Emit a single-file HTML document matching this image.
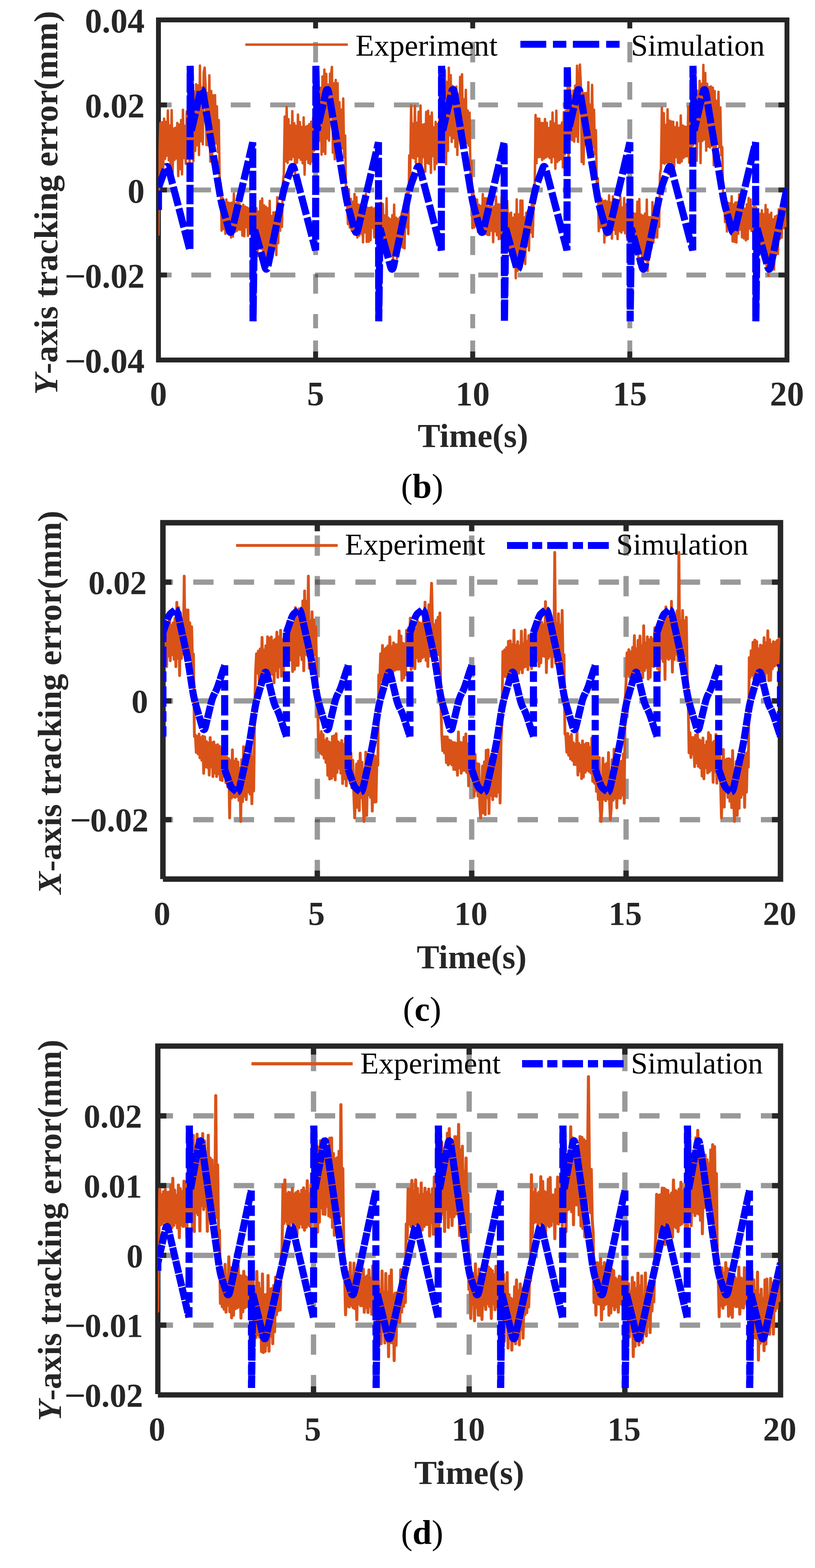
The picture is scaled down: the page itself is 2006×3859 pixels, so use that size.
<!DOCTYPE html>
<html lang="en"><head><meta charset="utf-8"><title>Tracking error: experiment vs simulation</title>
<style>
html,body{margin:0;padding:0;background:#fff;}
body{width:2006px;height:3859px;}
svg{display:block;}
.tk{font-family:"Liberation Serif", "DejaVu Serif", serif;font-weight:bold;font-size:84px;fill:#262626;}
.lg{font-family:"Liberation Serif", "DejaVu Serif", serif;font-size:75px;fill:#000;}
.cap{font-family:"Liberation Serif", "DejaVu Serif", serif;font-size:85px;fill:#000;}
</style></head><body>
<svg width="2006" height="3859" viewBox="0 0 2006 3859">
<rect width="2006" height="3859" fill="#fff"/>
<g id="plot1">
<text class="lg" x="875" y="136.5" style="font-size:75px">Experiment</text>
<text class="lg" x="1553" y="136.5" style="font-size:75px">Simulation</text>
<g fill="#262626" fill-opacity="0.47">
<rect x="390" y="252.2" width="32.4" height="12"/>
<rect x="471" y="252.2" width="48.5" height="12"/>
<rect x="568" y="252.2" width="48.5" height="12"/>
<rect x="665" y="252.2" width="62" height="12"/>
<rect x="775.6" y="252.2" width="48.5" height="12"/>
<rect x="872.6" y="252.2" width="48.5" height="12"/>
<rect x="969.6" y="252.2" width="62" height="12"/>
<rect x="1080.2" y="252.2" width="48.5" height="12"/>
<rect x="1177.2" y="252.2" width="48.5" height="12"/>
<rect x="1274.2" y="252.2" width="62" height="12"/>
<rect x="1384.8" y="252.2" width="48.5" height="12"/>
<rect x="1481.8" y="252.2" width="48.5" height="12"/>
<rect x="1578.8" y="252.2" width="62" height="12"/>
<rect x="1689.4" y="252.2" width="48.5" height="12"/>
<rect x="1786.4" y="252.2" width="48.5" height="12"/>
<rect x="1883.4" y="252.2" width="53.6" height="12"/>
<rect x="390" y="461.5" width="32.4" height="12"/>
<rect x="471" y="461.5" width="48.5" height="12"/>
<rect x="568" y="461.5" width="48.5" height="12"/>
<rect x="665" y="461.5" width="62" height="12"/>
<rect x="775.6" y="461.5" width="48.5" height="12"/>
<rect x="872.6" y="461.5" width="48.5" height="12"/>
<rect x="969.6" y="461.5" width="62" height="12"/>
<rect x="1080.2" y="461.5" width="48.5" height="12"/>
<rect x="1177.2" y="461.5" width="48.5" height="12"/>
<rect x="1274.2" y="461.5" width="62" height="12"/>
<rect x="1384.8" y="461.5" width="48.5" height="12"/>
<rect x="1481.8" y="461.5" width="48.5" height="12"/>
<rect x="1578.8" y="461.5" width="62" height="12"/>
<rect x="1689.4" y="461.5" width="48.5" height="12"/>
<rect x="1786.4" y="461.5" width="48.5" height="12"/>
<rect x="1883.4" y="461.5" width="53.6" height="12"/>
<rect x="390" y="670.8" width="32.4" height="12"/>
<rect x="471" y="670.8" width="48.5" height="12"/>
<rect x="568" y="670.8" width="48.5" height="12"/>
<rect x="665" y="670.8" width="62" height="12"/>
<rect x="775.6" y="670.8" width="48.5" height="12"/>
<rect x="872.6" y="670.8" width="48.5" height="12"/>
<rect x="969.6" y="670.8" width="62" height="12"/>
<rect x="1080.2" y="670.8" width="48.5" height="12"/>
<rect x="1177.2" y="670.8" width="48.5" height="12"/>
<rect x="1274.2" y="670.8" width="62" height="12"/>
<rect x="1384.8" y="670.8" width="48.5" height="12"/>
<rect x="1481.8" y="670.8" width="48.5" height="12"/>
<rect x="1578.8" y="670.8" width="62" height="12"/>
<rect x="1689.4" y="670.8" width="48.5" height="12"/>
<rect x="1786.4" y="670.8" width="48.5" height="12"/>
<rect x="1883.4" y="670.8" width="53.6" height="12"/>
<rect x="770.8" y="49" width="12" height="9"/>
<rect x="770.8" y="103.4" width="12" height="50.1"/>
<rect x="770.8" y="202" width="12" height="43.3"/>
<rect x="770.8" y="293.8" width="12" height="48.4"/>
<rect x="770.8" y="392.3" width="12" height="43.4"/>
<rect x="770.8" y="488" width="12" height="45"/>
<rect x="770.8" y="581" width="12" height="46.7"/>
<rect x="770.8" y="674.4" width="12" height="48.4"/>
<rect x="770.8" y="773" width="12" height="35"/>
<rect x="770.8" y="838" width="12" height="48"/>
<rect x="1157.5" y="49" width="12" height="9"/>
<rect x="1157.5" y="103.4" width="12" height="50.1"/>
<rect x="1157.5" y="202" width="12" height="43.3"/>
<rect x="1157.5" y="293.8" width="12" height="48.4"/>
<rect x="1157.5" y="392.3" width="12" height="43.4"/>
<rect x="1157.5" y="488" width="12" height="45"/>
<rect x="1157.5" y="581" width="12" height="46.7"/>
<rect x="1157.5" y="674.4" width="12" height="48.4"/>
<rect x="1157.5" y="773" width="12" height="35"/>
<rect x="1157.5" y="838" width="12" height="48"/>
<rect x="1544.2" y="49" width="12" height="9"/>
<rect x="1544.2" y="103.4" width="12" height="50.1"/>
<rect x="1544.2" y="202" width="12" height="43.3"/>
<rect x="1544.2" y="293.8" width="12" height="48.4"/>
<rect x="1544.2" y="392.3" width="12" height="43.4"/>
<rect x="1544.2" y="488" width="12" height="45"/>
<rect x="1544.2" y="581" width="12" height="46.7"/>
<rect x="1544.2" y="674.4" width="12" height="48.4"/>
<rect x="1544.2" y="773" width="12" height="35"/>
<rect x="1544.2" y="838" width="12" height="48"/>
</g>
<rect x="390" y="49" width="1547" height="837" fill="none" stroke="#262626" stroke-width="12"/>
<path d="M390 258.2h21M1937 258.2h-21M390 467.5h21M1937 467.5h-21M390 676.8h21M1937 676.8h-21M776.8 49v21M776.8 886v-21M1163.5 49v21M1163.5 886v-21M1550.2 49v21M1550.2 886v-21" stroke="#262626" stroke-width="12" fill="none"/>
<clipPath id="clip1"><rect x="390" y="49" width="1547" height="837"/></clipPath>
<g clip-path="url(#clip1)">
<path d="M390 577.4L392.3 401.3L394.6 302.9L397 435.6L399.3 301.1L401.6 427.6L403.9 291.9L406.2 390.8L408.6 299.9L410.9 383.3L413.2 272L415.5 394.6L417.8 308.4L420.2 431.8L422.5 271L424.8 432.9L427.1 316.2L429.4 393.3L431.8 314.6L434.1 390.1L436.4 302.5L438.7 433.3L441.1 306.6L443.4 416.3L445.7 295.5L448 428.9L450.3 270.3L452.7 388.9L455 309.6L457.3 403.2L459.6 274.4L461.9 373.9L464.3 269.7L466.6 407.8L468.9 201.6L471.2 376L473.5 249.1L475.9 396.8L478.2 225.5L480.5 371.2L482.8 207.5L485.1 357.6L487.5 210.2L489.8 381.5L492.1 161.6L494.4 347.6L496.7 215.2L499.1 355.3L501.4 178L503.7 166.2L506 212.6L508.3 356.9L510.7 228.5L513 357.6L515.3 185.6L517.6 397.5L519.9 224.1L522.3 389.4L524.6 234.4L526.9 360L529.2 234.3L531.6 353.1L533.9 261.7L536.2 374.3L538.5 295.5L540.8 456.2L543.2 450.3L545.5 567.5L547.8 486.8L550.1 563.6L552.4 499.4L554.8 575.3L557.1 490.9L559.4 566.3L561.7 498.6L564 565.1L566.4 500.1L568.7 584.3L571 498.8L573.3 582.1L575.6 476.2L578 570.3L580.3 500.8L582.6 568.4L584.9 480.5L587.2 564.8L589.6 501L591.9 565.1L594.2 508.1L596.5 579.7L598.8 503.9L601.2 581.3L603.5 508.5L605.8 559L608.1 510.6L610.4 580.3L612.8 512.9L615.1 565.6L617.4 498.1L619.7 571.9L622 481.1L624.4 604.3L626.7 508.3L629 618.6L631.3 512.5L633.7 629.9L636 520.9L638.3 601.4L640.6 494.9L642.9 612.2L645.3 488.6L647.6 618.3L649.9 505.4L652.2 666L654.5 509.1L656.9 665.2L659.2 512.4L661.5 633.4L663.8 494.3L666.1 631.8L668.5 531.7L670.8 632.2L673.1 522.7L675.4 608.5L677.7 522.2L680.1 627.6L682.4 485.4L684.7 598.5L687 512.3L689.3 567.9L691.7 505.3L694 558.1L696.3 449.7L698.6 428.9L700.9 287.1L703.3 397.1L705.6 263.2L707.9 401L710.2 293.5L712.5 392.4L714.9 308.7L717.2 392.7L719.5 273.4L721.8 385.7L724.2 303.5L726.5 428.1L728.8 309.8L731.1 399.9L733.4 282L735.8 388L738.1 300.4L740.4 393.1L742.7 312.4L745 401.7L747.4 289.1L749.7 429.7L752 312.2L754.3 391.9L756.6 310.1L759 400.9L761.3 305.6L763.6 403.4L765.9 299.5L768.2 397.2L770.6 291.2L772.9 370.9L775.2 225.1L777.5 367.6L779.8 252.6L782.2 366.5L784.5 225.5L786.8 346.3L789.1 215.9L791.4 380.4L793.8 188.2L796.1 373.3L798.4 171.2L800.7 379L803 181.7L805.4 340.9L807.7 208.5L810 346L812.3 181.4L814.7 185L817 164.7L819.3 375.6L821.6 204.9L823.9 392L826.3 196.7L828.6 356.6L830.9 205.1L833.2 361.4L835.5 251.4L837.9 368.7L840.2 269.8L842.5 365.2L844.8 242.4L847.1 387.5L849.5 333.6L851.8 491.7L854.1 488.3L856.4 551.5L858.7 465.7L861.1 560.1L863.4 489.6L865.7 567.5L868 496.5L870.3 565.9L872.7 477.4L875 570.6L877.3 485.4L879.6 584.5L881.9 503.7L884.3 579.8L886.6 504.3L888.9 575.6L891.2 512.5L893.5 596.4L895.9 492.4L898.2 572L900.5 477.1L902.8 595.2L905.2 511.4L907.5 595L909.8 511.8L912.1 591.2L914.4 510.2L916.8 560.3L919.1 513.5L921.4 584.2L923.7 511.9L926 566L928.4 509.9L930.7 576.9L933 500.7L935.3 584.5L937.6 498.9L940 596L942.3 502.1L944.6 591.7L946.9 530.2L949.2 608L951.6 488.1L953.9 623.1L956.2 535.9L958.5 625.9L960.8 539.5L963.2 629.8L965.5 529.6L967.8 640.5L970.1 503.8L972.4 623.7L974.8 535.7L977.1 636.2L979.4 539.1L981.7 617.8L984 535.1L986.4 598.6L988.7 524.5L991 609L993.3 513.6L995.7 611.3L998 509.6L1000.3 559.2L1002.6 473.9L1004.9 575.9L1007.3 382.4L1009.6 434.4L1011.9 259.3L1014.2 387.9L1016.5 304.4L1018.9 389.6L1021.2 260.5L1023.5 400.6L1025.8 302L1028.1 384.2L1030.5 275.1L1032.8 424.4L1035.1 259.7L1037.4 416.3L1039.7 306.9L1042.1 386.4L1044.4 305.6L1046.7 422.4L1049 275.5L1051.3 401.1L1053.7 272.5L1056 403L1058.3 285.9L1060.6 425.4L1062.9 277L1065.3 384.2L1067.6 313.2L1069.9 417L1072.2 299.9L1074.5 402.7L1076.9 304.9L1079.2 395L1081.5 291.8L1083.8 360.3L1086.2 258.7L1088.5 396.7L1090.8 239.4L1093.1 352.4L1095.4 173L1097.8 403.8L1100.1 201.8L1102.4 371.4L1104.7 166.8L1107 333.2L1109.4 185L1111.7 349.1L1114 211.5L1116.3 339.9L1118.6 219.5L1121 361.4L1123.3 213.2L1125.6 381.3L1127.9 231.9L1130.2 335.2L1132.6 189.3L1134.9 340.3L1137.2 182.8L1139.5 341.4L1141.8 244.5L1144.2 347.8L1146.5 221.3L1148.8 352.4L1151.1 272L1153.4 358.1L1155.8 277.2L1158.1 439.1L1160.4 397L1162.7 561.3L1165 470.1L1167.4 559.7L1169.7 489.5L1172 554.7L1174.3 491.4L1176.6 571L1179 504.2L1181.3 573.2L1183.6 507.1L1185.9 572.2L1188.3 477.7L1190.6 576.6L1192.9 487.9L1195.2 575.5L1197.5 487.9L1199.9 577.8L1202.2 508.8L1204.5 578.3L1206.8 505.5L1209.1 567.6L1211.5 510.9L1213.8 595.9L1216.1 508.3L1218.4 569.3L1220.7 483.8L1223.1 578.8L1225.4 502.8L1227.7 588.4L1230 503.4L1232.3 587.2L1234.7 484.4L1237 569.4L1239.3 484.8L1241.6 572.2L1243.9 497.8L1246.3 604.5L1248.6 494.5L1250.9 596.6L1253.2 525.8L1255.5 628.4L1257.9 523.4L1260.2 638.3L1262.5 536L1264.8 634.6L1267.1 527.6L1269.5 684.7L1271.8 490.8L1274.1 666.4L1276.4 527.8L1278.8 647.3L1281.1 493.6L1283.4 633.1L1285.7 493.8L1288 631.8L1290.4 534.9L1292.7 649.6L1295 523.8L1297.3 604.9L1299.6 519.2L1302 616.4L1304.3 512.5L1306.6 572L1308.9 500.1L1311.2 583L1313.6 501.5L1315.9 484.4L1318.2 282.9L1320.5 401.5L1322.8 291.7L1325.2 386.8L1327.5 292.3L1329.8 386.1L1332.1 302.8L1334.4 393.6L1336.8 303L1339.1 390.1L1341.4 293L1343.7 386.9L1346 302.6L1348.4 384.9L1350.7 315.2L1353 389L1355.3 299.1L1357.6 399.7L1360 277.1L1362.3 385.9L1364.6 303.8L1366.9 415L1369.3 272.4L1371.6 398.5L1373.9 308.9L1376.2 394.2L1378.5 308.7L1380.9 391.3L1383.2 301.8L1385.5 412L1387.8 276.1L1390.1 380.6L1392.5 273.1L1394.8 368L1397.1 209.2L1399.4 405.7L1401.7 209.7L1404.1 342.9L1406.4 235.7L1408.7 344.9L1411 223.1L1413.3 348.4L1415.7 210.8L1418 335.7L1420.3 161.7L1422.6 349L1424.9 217.9L1427.3 158.9L1429.6 206.1L1431.9 398.8L1434.2 228.1L1436.5 403.9L1438.9 229.5L1441.2 356.3L1443.5 229.1L1445.8 348.3L1448.1 202.2L1450.5 368L1452.8 257.5L1455.1 352.1L1457.4 208.9L1459.8 362.5L1462.1 270.1L1464.4 379.8L1466.7 320.4L1469 464.1L1471.4 438.4L1473.7 568.9L1476 488.1L1478.3 560L1480.6 489.5L1483 558.6L1485.3 495.1L1487.6 596.8L1489.9 493.8L1492.2 579.6L1494.6 496.3L1496.9 570.4L1499.2 480.9L1501.5 575.1L1503.8 498.3L1506.2 587.2L1508.5 483.6L1510.8 565.4L1513.1 490.4L1515.4 575.7L1517.8 513L1520.1 588.3L1522.4 509L1524.7 569L1527 484.4L1529.4 572.5L1531.7 511L1534 566.5L1536.3 487.5L1538.6 574L1541 503L1543.3 583.5L1545.6 491.1L1547.9 571.3L1550.2 497.3L1552.6 569.4L1554.9 519.2L1557.2 590.8L1559.5 524.9L1561.9 593.7L1564.2 526.2L1566.5 612.1L1568.8 496.6L1571.1 648.5L1573.5 490.1L1575.8 624L1578.1 528.2L1580.4 633.9L1582.7 531L1585.1 638.7L1587.4 525.8L1589.7 640.7L1592 491.3L1594.3 667L1596.7 534.3L1599 632.9L1601.3 535L1603.6 609.7L1605.9 497.4L1608.3 596.5L1610.6 513.3L1612.9 584.2L1615.2 488.8L1617.5 584.3L1619.9 505.1L1622.2 558.5L1624.5 428.1L1626.8 415.6L1629.1 265.1L1631.5 401.3L1633.8 278.6L1636.1 402.7L1638.4 307.6L1640.7 399.5L1643.1 268.9L1645.4 428.1L1647.7 297.1L1650 397.1L1652.4 299L1654.7 428.4L1657 299.7L1659.3 411.5L1661.6 313.1L1664 386.9L1666.3 301.5L1668.6 400.2L1670.9 314.8L1673.2 401.2L1675.6 284.3L1677.9 397.2L1680.2 308.8L1682.5 388.3L1684.8 311.3L1687.2 384.9L1689.5 312.2L1691.8 384.4L1694.1 262.4L1696.4 400.2L1698.8 291.3L1701.1 366.8L1703.4 262.3L1705.7 357.9L1708 196.4L1710.4 345.8L1712.7 234.4L1715 395.5L1717.3 223.6L1719.6 347.2L1722 198.9L1724.3 401.3L1726.6 206.6L1728.9 346.6L1731.2 159.8L1733.6 343.1L1735.9 179.8L1738.2 370.6L1740.5 206.2L1742.9 360.5L1745.2 214.5L1747.5 362.8L1749.8 212.8L1752.1 359.1L1754.5 215.7L1756.8 406.6L1759.1 224.2L1761.4 400.7L1763.7 247.9L1766.1 354.1L1768.4 226L1770.7 362.6L1773 264.2L1775.3 381.9L1777.7 361.8L1780 494.4L1782.3 476.1L1784.6 546.4L1786.9 488.2L1789.3 569.7L1791.6 499.3L1793.9 558.7L1796.2 500.5L1798.5 562.6L1800.9 483.1L1803.2 593.9L1805.5 503L1807.8 595.1L1810.1 498.4L1812.5 596.6L1814.8 497.8L1817.1 575.3L1819.4 478.5L1821.7 565.3L1824.1 511.7L1826.4 583.8L1828.7 500.7L1831 586.7L1833.4 513.5L1835.7 591.4L1838 503.1L1840.3 588.4L1842.6 487.2L1845 562.3L1847.3 491.1L1849.6 568.1L1851.9 511.5L1854.2 575.6L1856.6 483.4L1858.9 569.7L1861.2 510.2L1863.5 584.7L1865.8 519.8L1868.2 590.1L1870.5 526.2L1872.8 600.7L1875.1 517.4L1877.4 635.7L1879.8 527.3L1882.1 616.7L1884.4 504.6L1886.7 653.9L1889 515.5L1891.4 678.9L1893.7 528.3L1896 646.1L1898.3 523.6L1900.6 631.4L1903 539.7L1905.3 663.3L1907.6 533L1909.9 626.8L1912.2 530.8L1914.6 625L1916.9 515.2L1919.2 587.9L1921.5 510.7L1923.9 584.8L1926.2 500.2L1928.5 561.3L1930.8 487.2L1933.1 556.1" fill="none" stroke="#D95319" stroke-width="6" stroke-linejoin="round" stroke-linecap="round"/>
<path d="M390 516.7L390 464.5L390.8 461.6L391.5 458.9L392.3 456.3L393.1 453.9L393.9 451.6L394.6 449.5L395.4 447.4L396.2 445.2L397 443.1L397.7 441L398.5 438.8L399.3 436.7L400.1 434.6L400.8 432.5L401.6 430.3L402.4 428.2L403.1 426.1L403.9 423.9L404.7 421.8L405.5 419.7L406.2 417.5L407 415.4L407.8 413.3L408.6 411.6L409.3 410.4L410.1 409.7L410.9 409.4L411.7 409.6L412.4 410.2L413.2 411.3L414 412.9L414.8 415L415.5 417.5L416.3 420.4L417.1 423.4L417.8 426.3L418.6 429.3L419.4 432.3L420.2 435.2L420.9 438.2L421.7 441.2L422.5 444.1L423.3 447.1L424 450.1L424.8 453L425.6 456L426.4 459L427.1 461.9L427.9 464.9L428.7 467.8L429.4 470.8L430.2 473.8L431 476.7L431.8 479.7L432.5 482.7L433.3 485.6L434.1 488.6L434.9 491.6L435.6 494.5L436.4 497.5L437.2 500.5L438 503.4L438.7 506.4L439.5 509.4L440.3 512.3L441.1 515.3L441.8 518.2L442.6 521.2L443.4 524.2L444.1 527.1L444.9 530.1L445.7 533.1L446.5 536L447.2 539L448 542L448.8 544.9L449.6 547.9L450.3 550.9L451.1 553.8L451.9 556.8L452.7 559.7L453.4 562.7L454.2 565.7L455 568.6L455.7 571.6L456.5 574.6L457.3 577.5L458.1 580.5L458.8 583.5L459.6 586.4L460.4 589.4L461.2 592.4L461.9 595.3L462.7 598.3L463.5 601.2L464.3 604.2L465 607.2L465.8 610.1L466.6 613.1L467.4 616.1L468.1 162L468.9 201.8L469.7 241.5L470.4 281.3L471.2 321L471.2 321L472 317.6L472.8 314.2L473.5 310.8L474.3 307.5L475.1 304.1L475.9 300.7L476.6 297.3L477.4 293.9L478.2 290.5L479 287.1L479.7 283.7L480.5 280.3L481.3 276.9L482 273.5L482.8 270.1L483.6 266.7L484.4 263.4L485.1 260L485.9 256.6L486.7 253.2L487.5 249.8L488.2 246.4L489 243L489.8 239.6L490.6 236.2L491.3 232.8L492.1 229.4L492.9 226L493.6 223.4L494.4 221.5L495.2 220.3L496 219.8L496.7 220.1L497.5 221.1L498.3 222.8L499.1 225.3L499.8 228.5L500.6 232.4L501.4 237.1L502.2 241.8L502.9 246.5L503.7 251.1L504.5 255.8L505.3 260.5L506 265.2L506.8 269.8L507.6 274.5L508.3 279.2L509.1 283.9L509.9 288.5L510.7 293.2L511.4 297.9L512.2 302.6L513 307.2L513.8 311.9L514.5 316.6L515.3 321.3L516.1 325.9L516.9 330.6L517.6 335.3L518.4 340L519.2 344.6L519.9 349.3L520.7 354L521.5 358.7L522.3 363.3L523 368L523.8 372.7L524.6 377.4L525.4 382L526.1 386.7L526.9 391.4L527.7 396.1L528.5 400.7L529.2 405.4L530 410.1L530.8 414.7L531.6 419.4L532.3 424.1L533.1 428.8L533.9 433.4L534.6 438.1L535.4 442.8L536.2 447.5L537 452.1L537.7 456.8L538.5 461.5L539.3 466.2L540.1 470.8L540.8 475.5L541.6 480L542.4 484.3L543.2 488.5L543.9 492.4L544.7 496.2L545.5 499.8L546.2 503.3L547 506.5L547.8 509.6L548.6 512.5L549.3 515.2L550.1 517.9L550.9 520.6L551.7 523.4L552.4 526.1L553.2 528.8L554 531.5L554.8 534.3L555.5 537L556.3 539.7L557.1 542.4L557.8 545.1L558.6 547.9L559.4 550.6L560.2 553.3L560.9 556L561.7 558.7L562.5 561.5L563.3 564.2L564 566.9L564.8 569.1L565.6 570.7L566.4 571.8L567.1 572.3L567.9 572.3L568.7 571.7L569.5 570.6L570.2 569L571 566.8L571.8 564.1L572.5 560.8L573.3 557.5L574.1 554.2L574.9 550.9L575.6 547.6L576.4 544.3L577.2 541L578 537.7L578.7 534.5L579.5 531.2L580.3 527.9L581.1 524.6L581.8 521.3L582.6 518L583.4 514.7L584.1 511.4L584.9 508.2L585.7 504.9L586.5 501.6L587.2 498.3L588 495L588.8 491.7L589.6 488.4L590.3 485.1L591.1 481.8L591.9 478.6L592.7 475.3L593.4 472L594.2 468.7L595 465.4L595.8 462.1L596.5 458.8L597.3 455.5L598.1 452.3L598.8 449L599.6 445.7L600.4 442.4L601.2 439.1L601.9 435.8L602.7 432.5L603.5 429.2L604.3 425.9L605 422.7L605.8 419.4L606.6 416.1L607.4 412.8L608.1 409.5L608.9 406.2L609.7 402.9L610.4 399.6L611.2 396.4L612 393.1L612.8 389.8L613.5 386.5L614.3 383.2L615.1 379.9L615.9 376.6L616.6 373.3L617.4 370L618.2 366.8L619 363.5L619.7 360.2L620.5 356.9L621.3 353.6L622 350.3L622.8 790.8L623.6 733.5L624.4 676.2L625.1 618.9L625.9 561.7L625.9 561.7L626.7 564.5L627.5 567.3L628.2 570.1L629 572.9L629.8 575.7L630.6 578.6L631.3 581.4L632.1 584.2L632.9 587L633.7 589.8L634.4 592.6L635.2 595.5L636 598.3L636.7 601.1L637.5 603.9L638.3 606.7L639.1 609.5L639.8 612.4L640.6 615.2L641.4 618L642.2 620.8L642.9 623.6L643.7 626.4L644.5 629.3L645.3 632.1L646 634.9L646.8 637.7L647.6 640.5L648.3 643.4L649.1 646.2L649.9 649L650.7 651.8L651.4 654.6L652.2 657.4L653 659.7L653.8 661.3L654.5 662.3L655.3 662.7L656.1 662.6L656.9 661.8L657.6 660.5L658.4 658.5L659.2 656L660 652.8L660.7 649.1L661.5 645.4L662.3 641.6L663 637.9L663.8 634.2L664.6 630.4L665.4 626.7L666.1 622.9L666.9 619.2L667.7 615.5L668.5 611.7L669.2 608L670 604.3L670.8 600.5L671.6 596.8L672.3 593L673.1 589.3L673.9 585.6L674.6 581.8L675.4 578.1L676.2 574.4L677 570.6L677.7 566.9L678.5 563.2L679.3 559.4L680.1 555.7L680.8 551.9L681.6 548.2L682.4 544.5L683.2 540.7L683.9 537L684.7 533.3L685.5 529.5L686.3 525.8L687 522.1L687.8 518.3L688.6 514.6L689.3 510.8L690.1 507.1L690.9 503.4L691.7 499.6L692.4 495.9L693.2 492.2L694 488.4L694.8 484.7L695.5 481L696.3 477.4L697.1 473.9L697.9 470.6L698.6 467.5L699.4 464.5L700.2 461.6L700.9 458.9L701.7 456.3L702.5 453.9L703.3 451.6L704 449.5L704.8 447.4L705.6 445.2L706.4 443.1L707.1 441L707.9 438.8L708.7 436.7L709.5 434.6L710.2 432.5L711 430.3L711.8 428.2L712.5 426.1L713.3 423.9L714.1 421.8L714.9 419.7L715.6 417.5L716.4 415.4L717.2 413.3L718 411.6L718.7 410.4L719.5 409.7L720.3 409.4L721.1 409.6L721.8 410.2L722.6 411.3L723.4 412.9L724.2 415L724.9 417.5L725.7 420.4L726.5 423.4L727.2 426.3L728 429.3L728.8 432.3L729.6 435.2L730.3 438.2L731.1 441.2L731.9 444.1L732.7 447.1L733.4 450.1L734.2 453L735 456L735.8 459L736.5 461.9L737.3 464.9L738.1 467.8L738.8 470.8L739.6 473.8L740.4 476.7L741.2 479.7L741.9 482.7L742.7 485.6L743.5 488.6L744.3 491.6L745 494.5L745.8 497.5L746.6 500.5L747.4 503.4L748.1 506.4L748.9 509.4L749.7 512.3L750.5 515.3L751.2 518.2L752 521.2L752.8 524.2L753.5 527.1L754.3 530.1L755.1 533.1L755.9 536L756.6 539L757.4 542L758.2 544.9L759 547.9L759.7 550.9L760.5 553.8L761.3 556.8L762.1 559.7L762.8 562.7L763.6 565.7L764.4 568.6L765.1 571.6L765.9 574.6L766.7 577.5L767.5 580.5L768.2 583.5L769 586.4L769.8 589.4L770.6 592.4L771.3 595.3L772.1 598.3L772.9 601.2L773.7 604.2L774.4 607.2L775.2 610.1L776 613.1L776.8 616.1L777.5 162L778.3 201.8L779.1 241.5L779.8 281.3L780.6 321L780.6 321L781.4 317.6L782.2 314.2L782.9 310.8L783.7 307.5L784.5 304.1L785.3 300.7L786 297.3L786.8 293.9L787.6 290.5L788.4 287.1L789.1 283.7L789.9 280.3L790.7 276.9L791.4 273.5L792.2 270.1L793 266.7L793.8 263.4L794.5 260L795.3 256.6L796.1 253.2L796.9 249.8L797.6 246.4L798.4 243L799.2 239.6L800 236.2L800.7 232.8L801.5 229.4L802.3 226L803 223.4L803.8 221.5L804.6 220.3L805.4 219.8L806.1 220.1L806.9 221.1L807.7 222.8L808.5 225.3L809.2 228.5L810 232.4L810.8 237.1L811.6 241.8L812.3 246.5L813.1 251.1L813.9 255.8L814.7 260.5L815.4 265.2L816.2 269.8L817 274.5L817.7 279.2L818.5 283.9L819.3 288.5L820.1 293.2L820.8 297.9L821.6 302.6L822.4 307.2L823.2 311.9L823.9 316.6L824.7 321.3L825.5 325.9L826.3 330.6L827 335.3L827.8 340L828.6 344.6L829.3 349.3L830.1 354L830.9 358.7L831.7 363.3L832.4 368L833.2 372.7L834 377.4L834.8 382L835.5 386.7L836.3 391.4L837.1 396.1L837.9 400.7L838.6 405.4L839.4 410.1L840.2 414.7L841 419.4L841.7 424.1L842.5 428.8L843.3 433.4L844 438.1L844.8 442.8L845.6 447.5L846.4 452.1L847.1 456.8L847.9 461.5L848.7 466.2L849.5 470.8L850.2 475.5L851 480L851.8 484.3L852.6 488.5L853.3 492.4L854.1 496.2L854.9 499.8L855.6 503.3L856.4 506.5L857.2 509.6L858 512.5L858.7 515.2L859.5 517.9L860.3 520.6L861.1 523.4L861.8 526.1L862.6 528.8L863.4 531.5L864.2 534.3L864.9 537L865.7 539.7L866.5 542.4L867.2 545.1L868 547.9L868.8 550.6L869.6 553.3L870.3 556L871.1 558.7L871.9 561.5L872.7 564.2L873.4 566.9L874.2 569.1L875 570.7L875.8 571.8L876.5 572.3L877.3 572.3L878.1 571.7L878.9 570.6L879.6 569L880.4 566.8L881.2 564.1L881.9 560.8L882.7 557.5L883.5 554.2L884.3 550.9L885 547.6L885.8 544.3L886.6 541L887.4 537.7L888.1 534.5L888.9 531.2L889.7 527.9L890.5 524.6L891.2 521.3L892 518L892.8 514.7L893.5 511.4L894.3 508.2L895.1 504.9L895.9 501.6L896.6 498.3L897.4 495L898.2 491.7L899 488.4L899.7 485.1L900.5 481.8L901.3 478.6L902.1 475.3L902.8 472L903.6 468.7L904.4 465.4L905.2 462.1L905.9 458.8L906.7 455.5L907.5 452.3L908.2 449L909 445.7L909.8 442.4L910.6 439.1L911.3 435.8L912.1 432.5L912.9 429.2L913.7 425.9L914.4 422.7L915.2 419.4L916 416.1L916.8 412.8L917.5 409.5L918.3 406.2L919.1 402.9L919.8 399.6L920.6 396.4L921.4 393.1L922.2 389.8L922.9 386.5L923.7 383.2L924.5 379.9L925.3 376.6L926 373.3L926.8 370L927.6 366.8L928.4 363.5L929.1 360.2L929.9 356.9L930.7 353.6L931.5 350.3L932.2 790.8L933 733.5L933.8 676.2L934.5 618.9L935.3 561.7L935.3 561.7L936.1 564.5L936.9 567.3L937.6 570.1L938.4 572.9L939.2 575.7L940 578.6L940.7 581.4L941.5 584.2L942.3 587L943.1 589.8L943.8 592.6L944.6 595.5L945.4 598.3L946.1 601.1L946.9 603.9L947.7 606.7L948.5 609.5L949.2 612.4L950 615.2L950.8 618L951.6 620.8L952.3 623.6L953.1 626.4L953.9 629.3L954.7 632.1L955.4 634.9L956.2 637.7L957 640.5L957.7 643.4L958.5 646.2L959.3 649L960.1 651.8L960.8 654.6L961.6 657.4L962.4 659.7L963.2 661.3L963.9 662.3L964.7 662.7L965.5 662.6L966.3 661.8L967 660.5L967.8 658.5L968.6 656L969.4 652.8L970.1 649.1L970.9 645.4L971.7 641.6L972.4 637.9L973.2 634.2L974 630.4L974.8 626.7L975.5 622.9L976.3 619.2L977.1 615.5L977.9 611.7L978.6 608L979.4 604.3L980.2 600.5L981 596.8L981.7 593L982.5 589.3L983.3 585.6L984 581.8L984.8 578.1L985.6 574.4L986.4 570.6L987.1 566.9L987.9 563.2L988.7 559.4L989.5 555.7L990.2 551.9L991 548.2L991.8 544.5L992.6 540.7L993.3 537L994.1 533.3L994.9 529.5L995.7 525.8L996.4 522.1L997.2 518.3L998 514.6L998.7 510.8L999.5 507.1L1000.3 503.4L1001.1 499.6L1001.8 495.9L1002.6 492.2L1003.4 488.4L1004.2 484.7L1004.9 481L1005.7 477.4L1006.5 473.9L1007.3 470.6L1008 467.5L1008.8 464.5L1009.6 461.6L1010.3 458.9L1011.1 456.3L1011.9 453.9L1012.7 451.6L1013.4 449.5L1014.2 447.4L1015 445.2L1015.8 443.1L1016.5 441L1017.3 438.8L1018.1 436.7L1018.9 434.6L1019.6 432.5L1020.4 430.3L1021.2 428.2L1021.9 426.1L1022.7 423.9L1023.5 421.8L1024.3 419.7L1025 417.5L1025.8 415.4L1026.6 413.3L1027.4 411.6L1028.1 410.4L1028.9 409.7L1029.7 409.4L1030.5 409.6L1031.2 410.2L1032 411.3L1032.8 412.9L1033.6 415L1034.3 417.5L1035.1 420.4L1035.9 423.4L1036.6 426.3L1037.4 429.3L1038.2 432.3L1039 435.2L1039.7 438.2L1040.5 441.2L1041.3 444.1L1042.1 447.1L1042.8 450.1L1043.6 453L1044.4 456L1045.2 459L1045.9 461.9L1046.7 464.9L1047.5 467.8L1048.2 470.8L1049 473.8L1049.8 476.7L1050.6 479.7L1051.3 482.7L1052.1 485.6L1052.9 488.6L1053.7 491.6L1054.4 494.5L1055.2 497.5L1056 500.5L1056.8 503.4L1057.5 506.4L1058.3 509.4L1059.1 512.3L1059.9 515.3L1060.6 518.2L1061.4 521.2L1062.2 524.2L1062.9 527.1L1063.7 530.1L1064.5 533.1L1065.3 536L1066 539L1066.8 542L1067.6 544.9L1068.4 547.9L1069.1 550.9L1069.9 553.8L1070.7 556.8L1071.5 559.7L1072.2 562.7L1073 565.7L1073.8 568.6L1074.5 571.6L1075.3 574.6L1076.1 577.5L1076.9 580.5L1077.6 583.5L1078.4 586.4L1079.2 589.4L1080 592.4L1080.7 595.3L1081.5 598.3L1082.3 601.2L1083.1 604.2L1083.8 607.2L1084.6 610.1L1085.4 613.1L1086.2 616.1L1086.9 162L1087.7 201.8L1088.5 241.5L1089.2 281.3L1090 321L1090 321L1090.8 317.6L1091.6 314.2L1092.3 310.8L1093.1 307.5L1093.9 304.1L1094.7 300.7L1095.4 297.3L1096.2 293.9L1097 290.5L1097.8 287.1L1098.5 283.7L1099.3 280.3L1100.1 276.9L1100.8 273.5L1101.6 270.1L1102.4 266.7L1103.2 263.4L1103.9 260L1104.7 256.6L1105.5 253.2L1106.3 249.8L1107 246.4L1107.8 243L1108.6 239.6L1109.4 236.2L1110.1 232.8L1110.9 229.4L1111.7 226L1112.4 223.4L1113.2 221.5L1114 220.3L1114.8 219.8L1115.5 220.1L1116.3 221.1L1117.1 222.8L1117.9 225.3L1118.6 228.5L1119.4 232.4L1120.2 237.1L1121 241.8L1121.7 246.5L1122.5 251.1L1123.3 255.8L1124.1 260.5L1124.8 265.2L1125.6 269.8L1126.4 274.5L1127.1 279.2L1127.9 283.9L1128.7 288.5L1129.5 293.2L1130.2 297.9L1131 302.6L1131.8 307.2L1132.6 311.9L1133.3 316.6L1134.1 321.3L1134.9 325.9L1135.7 330.6L1136.4 335.3L1137.2 340L1138 344.6L1138.7 349.3L1139.5 354L1140.3 358.7L1141.1 363.3L1141.8 368L1142.6 372.7L1143.4 377.4L1144.2 382L1144.9 386.7L1145.7 391.4L1146.5 396.1L1147.3 400.7L1148 405.4L1148.8 410.1L1149.6 414.7L1150.4 419.4L1151.1 424.1L1151.9 428.8L1152.7 433.4L1153.4 438.1L1154.2 442.8L1155 447.5L1155.8 452.1L1156.5 456.8L1157.3 461.5L1158.1 466.2L1158.9 470.8L1159.6 475.5L1160.4 480L1161.2 484.3L1162 488.5L1162.7 492.4L1163.5 496.2L1164.3 499.8L1165 503.3L1165.8 506.5L1166.6 509.6L1167.4 512.5L1168.1 515.2L1168.9 517.9L1169.7 520.6L1170.5 523.4L1171.2 526.1L1172 528.8L1172.8 531.5L1173.6 534.3L1174.3 537L1175.1 539.7L1175.9 542.4L1176.6 545.1L1177.4 547.9L1178.2 550.6L1179 553.3L1179.7 556L1180.5 558.7L1181.3 561.5L1182.1 564.2L1182.8 566.9L1183.6 569.1L1184.4 570.7L1185.2 571.8L1185.9 572.3L1186.7 572.3L1187.5 571.7L1188.3 570.6L1189 569L1189.8 566.8L1190.6 564.1L1191.3 560.8L1192.1 557.5L1192.9 554.2L1193.7 550.9L1194.4 547.6L1195.2 544.3L1196 541L1196.8 537.7L1197.5 534.5L1198.3 531.2L1199.1 527.9L1199.9 524.6L1200.6 521.3L1201.4 518L1202.2 514.7L1202.9 511.4L1203.7 508.2L1204.5 504.9L1205.3 501.6L1206 498.3L1206.8 495L1207.6 491.7L1208.4 488.4L1209.1 485.1L1209.9 481.8L1210.7 478.6L1211.5 475.3L1212.2 472L1213 468.7L1213.8 465.4L1214.6 462.1L1215.3 458.8L1216.1 455.5L1216.9 452.3L1217.6 449L1218.4 445.7L1219.2 442.4L1220 439.1L1220.7 435.8L1221.5 432.5L1222.3 429.2L1223.1 425.9L1223.8 422.7L1224.6 419.4L1225.4 416.1L1226.2 412.8L1226.9 409.5L1227.7 406.2L1228.5 402.9L1229.2 399.6L1230 396.4L1230.8 393.1L1231.6 389.8L1232.3 386.5L1233.1 383.2L1233.9 379.9L1234.7 376.6L1235.4 373.3L1236.2 370L1237 366.8L1237.8 363.5L1238.5 360.2L1239.3 356.9L1240.1 353.6L1240.8 350.3L1241.6 790.8L1242.4 733.5L1243.2 676.2L1243.9 618.9L1244.7 561.7L1244.7 561.7L1245.5 564.5L1246.3 567.3L1247 570.1L1247.8 572.9L1248.6 575.7L1249.4 578.6L1250.1 581.4L1250.9 584.2L1251.7 587L1252.5 589.8L1253.2 592.6L1254 595.5L1254.8 598.3L1255.5 601.1L1256.3 603.9L1257.1 606.7L1257.9 609.5L1258.6 612.4L1259.4 615.2L1260.2 618L1261 620.8L1261.7 623.6L1262.5 626.4L1263.3 629.3L1264.1 632.1L1264.8 634.9L1265.6 637.7L1266.4 640.5L1267.1 643.4L1267.9 646.2L1268.7 649L1269.5 651.8L1270.2 654.6L1271 657.4L1271.8 659.7L1272.6 661.3L1273.3 662.3L1274.1 662.7L1274.9 662.6L1275.7 661.8L1276.4 660.5L1277.2 658.5L1278 656L1278.8 652.8L1279.5 649.1L1280.3 645.4L1281.1 641.6L1281.8 637.9L1282.6 634.2L1283.4 630.4L1284.2 626.7L1284.9 622.9L1285.7 619.2L1286.5 615.5L1287.3 611.7L1288 608L1288.8 604.3L1289.6 600.5L1290.4 596.8L1291.1 593L1291.9 589.3L1292.7 585.6L1293.4 581.8L1294.2 578.1L1295 574.4L1295.8 570.6L1296.5 566.9L1297.3 563.2L1298.1 559.4L1298.9 555.7L1299.6 551.9L1300.4 548.2L1301.2 544.5L1302 540.7L1302.7 537L1303.5 533.3L1304.3 529.5L1305.1 525.8L1305.8 522.1L1306.6 518.3L1307.4 514.6L1308.1 510.8L1308.9 507.1L1309.7 503.4L1310.5 499.6L1311.2 495.9L1312 492.2L1312.8 488.4L1313.6 484.7L1314.3 481L1315.1 477.4L1315.9 473.9L1316.7 470.6L1317.4 467.5L1318.2 464.5L1319 461.6L1319.7 458.9L1320.5 456.3L1321.3 453.9L1322.1 451.6L1322.8 449.5L1323.6 447.4L1324.4 445.2L1325.2 443.1L1325.9 441L1326.7 438.8L1327.5 436.7L1328.3 434.6L1329 432.5L1329.8 430.3L1330.6 428.2L1331.3 426.1L1332.1 423.9L1332.9 421.8L1333.7 419.7L1334.4 417.5L1335.2 415.4L1336 413.3L1336.8 411.6L1337.5 410.4L1338.3 409.7L1339.1 409.4L1339.9 409.6L1340.6 410.2L1341.4 411.3L1342.2 412.9L1343 415L1343.7 417.5L1344.5 420.4L1345.3 423.4L1346 426.3L1346.8 429.3L1347.6 432.3L1348.4 435.2L1349.1 438.2L1349.9 441.2L1350.7 444.1L1351.5 447.1L1352.2 450.1L1353 453L1353.8 456L1354.6 459L1355.3 461.9L1356.1 464.9L1356.9 467.8L1357.6 470.8L1358.4 473.8L1359.2 476.7L1360 479.7L1360.7 482.7L1361.5 485.6L1362.3 488.6L1363.1 491.6L1363.8 494.5L1364.6 497.5L1365.4 500.5L1366.2 503.4L1366.9 506.4L1367.7 509.4L1368.5 512.3L1369.3 515.3L1370 518.2L1370.8 521.2L1371.6 524.2L1372.3 527.1L1373.1 530.1L1373.9 533.1L1374.7 536L1375.4 539L1376.2 542L1377 544.9L1377.8 547.9L1378.5 550.9L1379.3 553.8L1380.1 556.8L1380.9 559.7L1381.6 562.7L1382.4 565.7L1383.2 568.6L1383.9 571.6L1384.7 574.6L1385.5 577.5L1386.3 580.5L1387 583.5L1387.8 586.4L1388.6 589.4L1389.4 592.4L1390.1 595.3L1390.9 598.3L1391.7 601.2L1392.5 604.2L1393.2 607.2L1394 610.1L1394.8 613.1L1395.5 616.1L1396.3 162L1397.1 201.8L1397.9 241.5L1398.6 281.3L1399.4 321L1399.4 321L1400.2 317.6L1401 314.2L1401.7 310.8L1402.5 307.5L1403.3 304.1L1404.1 300.7L1404.8 297.3L1405.6 293.9L1406.4 290.5L1407.2 287.1L1407.9 283.7L1408.7 280.3L1409.5 276.9L1410.2 273.5L1411 270.1L1411.8 266.7L1412.6 263.4L1413.3 260L1414.1 256.6L1414.9 253.2L1415.7 249.8L1416.4 246.4L1417.2 243L1418 239.6L1418.8 236.2L1419.5 232.8L1420.3 229.4L1421.1 226L1421.8 223.4L1422.6 221.5L1423.4 220.3L1424.2 219.8L1424.9 220.1L1425.7 221.1L1426.5 222.8L1427.3 225.3L1428 228.5L1428.8 232.4L1429.6 237.1L1430.4 241.8L1431.1 246.5L1431.9 251.1L1432.7 255.8L1433.5 260.5L1434.2 265.2L1435 269.8L1435.8 274.5L1436.5 279.2L1437.3 283.9L1438.1 288.5L1438.9 293.2L1439.6 297.9L1440.4 302.6L1441.2 307.2L1442 311.9L1442.7 316.6L1443.5 321.3L1444.3 325.9L1445.1 330.6L1445.8 335.3L1446.6 340L1447.4 344.6L1448.1 349.3L1448.9 354L1449.7 358.7L1450.5 363.3L1451.2 368L1452 372.7L1452.8 377.4L1453.6 382L1454.3 386.7L1455.1 391.4L1455.9 396.1L1456.7 400.7L1457.4 405.4L1458.2 410.1L1459 414.7L1459.8 419.4L1460.5 424.1L1461.3 428.8L1462.1 433.4L1462.8 438.1L1463.6 442.8L1464.4 447.5L1465.2 452.1L1465.9 456.8L1466.7 461.5L1467.5 466.2L1468.3 470.8L1469 475.5L1469.8 480L1470.6 484.3L1471.4 488.5L1472.1 492.4L1472.9 496.2L1473.7 499.8L1474.4 503.3L1475.2 506.5L1476 509.6L1476.8 512.5L1477.5 515.2L1478.3 517.9L1479.1 520.6L1479.9 523.4L1480.6 526.1L1481.4 528.8L1482.2 531.5L1483 534.3L1483.7 537L1484.5 539.7L1485.3 542.4L1486 545.1L1486.8 547.9L1487.6 550.6L1488.4 553.3L1489.1 556L1489.9 558.7L1490.7 561.5L1491.5 564.2L1492.2 566.9L1493 569.1L1493.8 570.7L1494.6 571.8L1495.3 572.3L1496.1 572.3L1496.9 571.7L1497.7 570.6L1498.4 569L1499.2 566.8L1500 564.1L1500.7 560.8L1501.5 557.5L1502.3 554.2L1503.1 550.9L1503.8 547.6L1504.6 544.3L1505.4 541L1506.2 537.7L1506.9 534.5L1507.7 531.2L1508.5 527.9L1509.3 524.6L1510 521.3L1510.8 518L1511.6 514.7L1512.3 511.4L1513.1 508.2L1513.9 504.9L1514.7 501.6L1515.4 498.3L1516.2 495L1517 491.7L1517.8 488.4L1518.5 485.1L1519.3 481.8L1520.1 478.6L1520.9 475.3L1521.6 472L1522.4 468.7L1523.2 465.4L1524 462.1L1524.7 458.8L1525.5 455.5L1526.3 452.3L1527 449L1527.8 445.7L1528.6 442.4L1529.4 439.1L1530.1 435.8L1530.9 432.5L1531.7 429.2L1532.5 425.9L1533.2 422.7L1534 419.4L1534.8 416.1L1535.6 412.8L1536.3 409.5L1537.1 406.2L1537.9 402.9L1538.6 399.6L1539.4 396.4L1540.2 393.1L1541 389.8L1541.7 386.5L1542.5 383.2L1543.3 379.9L1544.1 376.6L1544.8 373.3L1545.6 370L1546.4 366.8L1547.2 363.5L1547.9 360.2L1548.7 356.9L1549.5 353.6L1550.2 350.3L1551 790.8L1551.8 733.5L1552.6 676.2L1553.3 618.9L1554.1 561.7L1554.1 561.7L1554.9 564.5L1555.7 567.3L1556.4 570.1L1557.2 572.9L1558 575.7L1558.8 578.6L1559.5 581.4L1560.3 584.2L1561.1 587L1561.9 589.8L1562.6 592.6L1563.4 595.5L1564.2 598.3L1564.9 601.1L1565.7 603.9L1566.5 606.7L1567.3 609.5L1568 612.4L1568.8 615.2L1569.6 618L1570.4 620.8L1571.1 623.6L1571.9 626.4L1572.7 629.3L1573.5 632.1L1574.2 634.9L1575 637.7L1575.8 640.5L1576.5 643.4L1577.3 646.2L1578.1 649L1578.9 651.8L1579.6 654.6L1580.4 657.4L1581.2 659.7L1582 661.3L1582.7 662.3L1583.5 662.7L1584.3 662.6L1585.1 661.8L1585.8 660.5L1586.6 658.5L1587.4 656L1588.2 652.8L1588.9 649.1L1589.7 645.4L1590.5 641.6L1591.2 637.9L1592 634.2L1592.8 630.4L1593.6 626.7L1594.3 622.9L1595.1 619.2L1595.9 615.5L1596.7 611.7L1597.4 608L1598.2 604.3L1599 600.5L1599.8 596.8L1600.5 593L1601.3 589.3L1602.1 585.6L1602.8 581.8L1603.6 578.1L1604.4 574.4L1605.2 570.6L1605.9 566.9L1606.7 563.2L1607.5 559.4L1608.3 555.7L1609 551.9L1609.8 548.2L1610.6 544.5L1611.4 540.7L1612.1 537L1612.9 533.3L1613.7 529.5L1614.5 525.8L1615.2 522.1L1616 518.3L1616.8 514.6L1617.5 510.8L1618.3 507.1L1619.1 503.4L1619.9 499.6L1620.6 495.9L1621.4 492.2L1622.2 488.4L1623 484.7L1623.7 481L1624.5 477.4L1625.3 473.9L1626.1 470.6L1626.8 467.5L1627.6 464.5L1628.4 461.6L1629.1 458.9L1629.9 456.3L1630.7 453.9L1631.5 451.6L1632.2 449.5L1633 447.4L1633.8 445.2L1634.6 443.1L1635.3 441L1636.1 438.8L1636.9 436.7L1637.7 434.6L1638.4 432.5L1639.2 430.3L1640 428.2L1640.7 426.1L1641.5 423.9L1642.3 421.8L1643.1 419.7L1643.8 417.5L1644.6 415.4L1645.4 413.3L1646.2 411.6L1646.9 410.4L1647.7 409.7L1648.5 409.4L1649.3 409.6L1650 410.2L1650.8 411.3L1651.6 412.9L1652.4 415L1653.1 417.5L1653.9 420.4L1654.7 423.4L1655.4 426.3L1656.2 429.3L1657 432.3L1657.8 435.2L1658.5 438.2L1659.3 441.2L1660.1 444.1L1660.9 447.1L1661.6 450.1L1662.4 453L1663.2 456L1664 459L1664.7 461.9L1665.5 464.9L1666.3 467.8L1667 470.8L1667.8 473.8L1668.6 476.7L1669.4 479.7L1670.1 482.7L1670.9 485.6L1671.7 488.6L1672.5 491.6L1673.2 494.5L1674 497.5L1674.8 500.5L1675.6 503.4L1676.3 506.4L1677.1 509.4L1677.9 512.3L1678.7 515.3L1679.4 518.2L1680.2 521.2L1681 524.2L1681.7 527.1L1682.5 530.1L1683.3 533.1L1684.1 536L1684.8 539L1685.6 542L1686.4 544.9L1687.2 547.9L1687.9 550.9L1688.7 553.8L1689.5 556.8L1690.3 559.7L1691 562.7L1691.8 565.7L1692.6 568.6L1693.3 571.6L1694.1 574.6L1694.9 577.5L1695.7 580.5L1696.4 583.5L1697.2 586.4L1698 589.4L1698.8 592.4L1699.5 595.3L1700.3 598.3L1701.1 601.2L1701.9 604.2L1702.6 607.2L1703.4 610.1L1704.2 613.1L1705 616.1L1705.7 162L1706.5 201.8L1707.3 241.5L1708 281.3L1708.8 321L1708.8 321L1709.6 317.6L1710.4 314.2L1711.1 310.8L1711.9 307.5L1712.7 304.1L1713.5 300.7L1714.2 297.3L1715 293.9L1715.8 290.5L1716.6 287.1L1717.3 283.7L1718.1 280.3L1718.9 276.9L1719.6 273.5L1720.4 270.1L1721.2 266.7L1722 263.4L1722.7 260L1723.5 256.6L1724.3 253.2L1725.1 249.8L1725.8 246.4L1726.6 243L1727.4 239.6L1728.2 236.2L1728.9 232.8L1729.7 229.4L1730.5 226L1731.2 223.4L1732 221.5L1732.8 220.3L1733.6 219.8L1734.3 220.1L1735.1 221.1L1735.9 222.8L1736.7 225.3L1737.4 228.5L1738.2 232.4L1739 237.1L1739.8 241.8L1740.5 246.5L1741.3 251.1L1742.1 255.8L1742.9 260.5L1743.6 265.2L1744.4 269.8L1745.2 274.5L1745.9 279.2L1746.7 283.9L1747.5 288.5L1748.3 293.2L1749 297.9L1749.8 302.6L1750.6 307.2L1751.4 311.9L1752.1 316.6L1752.9 321.3L1753.7 325.9L1754.5 330.6L1755.2 335.3L1756 340L1756.8 344.6L1757.5 349.3L1758.3 354L1759.1 358.7L1759.9 363.3L1760.6 368L1761.4 372.7L1762.2 377.4L1763 382L1763.7 386.7L1764.5 391.4L1765.3 396.1L1766.1 400.7L1766.8 405.4L1767.6 410.1L1768.4 414.7L1769.2 419.4L1769.9 424.1L1770.7 428.8L1771.5 433.4L1772.2 438.1L1773 442.8L1773.8 447.5L1774.6 452.1L1775.3 456.8L1776.1 461.5L1776.9 466.2L1777.7 470.8L1778.4 475.5L1779.2 480L1780 484.3L1780.8 488.5L1781.5 492.4L1782.3 496.2L1783.1 499.8L1783.8 503.3L1784.6 506.5L1785.4 509.6L1786.2 512.5L1786.9 515.2L1787.7 517.9L1788.5 520.6L1789.3 523.4L1790 526.1L1790.8 528.8L1791.6 531.5L1792.4 534.3L1793.1 537L1793.9 539.7L1794.7 542.4L1795.4 545.1L1796.2 547.9L1797 550.6L1797.8 553.3L1798.5 556L1799.3 558.7L1800.1 561.5L1800.9 564.2L1801.6 566.9L1802.4 569.1L1803.2 570.7L1804 571.8L1804.7 572.3L1805.5 572.3L1806.3 571.7L1807.1 570.6L1807.8 569L1808.6 566.8L1809.4 564.1L1810.1 560.8L1810.9 557.5L1811.7 554.2L1812.5 550.9L1813.2 547.6L1814 544.3L1814.8 541L1815.6 537.7L1816.3 534.5L1817.1 531.2L1817.9 527.9L1818.7 524.6L1819.4 521.3L1820.2 518L1821 514.7L1821.7 511.4L1822.5 508.2L1823.3 504.9L1824.1 501.6L1824.8 498.3L1825.6 495L1826.4 491.7L1827.2 488.4L1827.9 485.1L1828.7 481.8L1829.5 478.6L1830.3 475.3L1831 472L1831.8 468.7L1832.6 465.4L1833.4 462.1L1834.1 458.8L1834.9 455.5L1835.7 452.3L1836.4 449L1837.2 445.7L1838 442.4L1838.8 439.1L1839.5 435.8L1840.3 432.5L1841.1 429.2L1841.9 425.9L1842.6 422.7L1843.4 419.4L1844.2 416.1L1845 412.8L1845.7 409.5L1846.5 406.2L1847.3 402.9L1848 399.6L1848.8 396.4L1849.6 393.1L1850.4 389.8L1851.1 386.5L1851.9 383.2L1852.7 379.9L1853.5 376.6L1854.2 373.3L1855 370L1855.8 366.8L1856.6 363.5L1857.3 360.2L1858.1 356.9L1858.9 353.6L1859.7 350.3L1860.4 790.8L1861.2 733.5L1862 676.2L1862.7 618.9L1863.5 561.7L1863.5 561.7L1864.3 564.5L1865.1 567.3L1865.8 570.1L1866.6 572.9L1867.4 575.7L1868.2 578.6L1868.9 581.4L1869.7 584.2L1870.5 587L1871.3 589.8L1872 592.6L1872.8 595.5L1873.6 598.3L1874.3 601.1L1875.1 603.9L1875.9 606.7L1876.7 609.5L1877.4 612.4L1878.2 615.2L1879 618L1879.8 620.8L1880.5 623.6L1881.3 626.4L1882.1 629.3L1882.9 632.1L1883.6 634.9L1884.4 637.7L1885.2 640.5L1885.9 643.4L1886.7 646.2L1887.5 649L1888.3 651.8L1889 654.6L1889.8 657.4L1890.6 659.7L1891.4 661.3L1892.1 662.3L1892.9 662.7L1893.7 662.6L1894.5 661.8L1895.2 660.5L1896 658.5L1896.8 656L1897.6 652.8L1898.3 649.1L1899.1 645.4L1899.9 641.6L1900.6 637.9L1901.4 634.2L1902.2 630.4L1903 626.7L1903.7 622.9L1904.5 619.2L1905.3 615.5L1906.1 611.7L1906.8 608L1907.6 604.3L1908.4 600.5L1909.2 596.8L1909.9 593L1910.7 589.3L1911.5 585.6L1912.2 581.8L1913 578.1L1913.8 574.4L1914.6 570.6L1915.3 566.9L1916.1 563.2L1916.9 559.4L1917.7 555.7L1918.4 551.9L1919.2 548.2L1920 544.5L1920.8 540.7L1921.5 537L1922.3 533.3L1923.1 529.5L1923.9 525.8L1924.6 522.1L1925.4 518.3L1926.2 514.6L1926.9 510.8L1927.7 507.1L1928.5 503.4L1929.3 499.6L1930 495.9L1930.8 492.2L1931.6 488.4L1932.4 484.7L1933.1 481L1933.9 477.4L1934.7 473.9L1935.5 470.6L1936.2 467.5L1937 464.5" fill="none" stroke="#0000FF" stroke-width="17.5" stroke-linejoin="bevel" stroke-dasharray="48 7" stroke-dashoffset="0"/>
</g>
<rect x="603.9" y="106.8" width="252.1" height="6" fill="#D95319"/>
<rect x="1280.8" y="100.5" width="63.7" height="17" fill="#0000FF"/>
<rect x="1361" y="100.5" width="33" height="17" fill="#0000FF"/>
<rect x="1410" y="100.5" width="65" height="17" fill="#0000FF"/>
<rect x="1492" y="100.5" width="33" height="17" fill="#0000FF"/>
<text class="tk" text-anchor="end" x="356" y="80">0.04</text>
<text class="tk" text-anchor="end" x="356" y="289.2">0.02</text>
<text class="tk" text-anchor="end" x="356" y="498.5">0</text>
<text class="tk" text-anchor="end" x="356" y="707.8"><tspan textLength="53" lengthAdjust="spacingAndGlyphs">−</tspan><tspan dx="-3">0.02</tspan></text>
<text class="tk" text-anchor="end" x="356" y="917"><tspan textLength="53" lengthAdjust="spacingAndGlyphs">−</tspan><tspan dx="-3">0.04</tspan></text>
<text class="tk" text-anchor="middle" x="390" y="998">0</text>
<text class="tk" text-anchor="middle" x="776.8" y="998">5</text>
<text class="tk" text-anchor="middle" x="1163.5" y="998">10</text>
<text class="tk" text-anchor="middle" x="1550.2" y="998">15</text>
<text class="tk" text-anchor="middle" x="1937" y="998">20</text>
<text class="tk" text-anchor="middle" x="1164" y="1100" style="font-size:83.5px">Time(s)</text>
<text class="tk" text-anchor="middle" transform="translate(141 499.3) rotate(-90)" style="font-size:83.5px"><tspan font-style="italic">Y</tspan>-axis tracking error(mm)</text>
<text class="cap" text-anchor="middle" x="1039" y="1225">(<tspan font-weight="bold">b</tspan>)</text>
</g>
<g id="plot2">
<text class="lg" x="849" y="1365" style="font-size:74px">Experiment</text>
<text class="lg" x="1517" y="1365" style="font-size:74px">Simulation</text>
<g fill="#262626" fill-opacity="0.47">
<rect x="401" y="1426.2" width="24.8" height="13"/><rect x="475.6" y="1426.2" width="50" height="13"/><rect x="575.4" y="1426.2" width="50" height="13"/><rect x="675.2" y="1426.2" width="50" height="13"/><rect x="775" y="1426.2" width="50" height="13"/><rect x="874.8" y="1426.2" width="50" height="13"/><rect x="974.6" y="1426.2" width="50" height="13"/><rect x="1074.4" y="1426.2" width="50" height="13"/><rect x="1174.2" y="1426.2" width="50" height="13"/><rect x="1274" y="1426.2" width="50" height="13"/><rect x="1373.8" y="1426.2" width="50" height="13"/><rect x="1473.6" y="1426.2" width="50" height="13"/><rect x="1573.4" y="1426.2" width="50" height="13"/><rect x="1673.2" y="1426.2" width="50" height="13"/><rect x="1773" y="1426.2" width="50" height="13"/><rect x="1872.8" y="1426.2" width="48.2" height="13"/>
<rect x="401" y="1718.5" width="24.8" height="13"/><rect x="475.6" y="1718.5" width="50" height="13"/><rect x="575.4" y="1718.5" width="50" height="13"/><rect x="675.2" y="1718.5" width="50" height="13"/><rect x="775" y="1718.5" width="50" height="13"/><rect x="874.8" y="1718.5" width="50" height="13"/><rect x="974.6" y="1718.5" width="50" height="13"/><rect x="1074.4" y="1718.5" width="50" height="13"/><rect x="1174.2" y="1718.5" width="50" height="13"/><rect x="1274" y="1718.5" width="50" height="13"/><rect x="1373.8" y="1718.5" width="50" height="13"/><rect x="1473.6" y="1718.5" width="50" height="13"/><rect x="1573.4" y="1718.5" width="50" height="13"/><rect x="1673.2" y="1718.5" width="50" height="13"/><rect x="1773" y="1718.5" width="50" height="13"/><rect x="1872.8" y="1718.5" width="48.2" height="13"/>
<rect x="401" y="2010.8" width="24.8" height="13"/><rect x="475.6" y="2010.8" width="50" height="13"/><rect x="575.4" y="2010.8" width="50" height="13"/><rect x="675.2" y="2010.8" width="50" height="13"/><rect x="775" y="2010.8" width="50" height="13"/><rect x="874.8" y="2010.8" width="50" height="13"/><rect x="974.6" y="2010.8" width="50" height="13"/><rect x="1074.4" y="2010.8" width="50" height="13"/><rect x="1174.2" y="2010.8" width="50" height="13"/><rect x="1274" y="2010.8" width="50" height="13"/><rect x="1373.8" y="2010.8" width="50" height="13"/><rect x="1473.6" y="2010.8" width="50" height="13"/><rect x="1573.4" y="2010.8" width="50" height="13"/><rect x="1673.2" y="2010.8" width="50" height="13"/><rect x="1773" y="2010.8" width="50" height="13"/><rect x="1872.8" y="2010.8" width="48.2" height="13"/>
<rect x="774.5" y="1317.8" width="13" height="50"/><rect x="774.5" y="1417.6" width="13" height="50"/><rect x="774.5" y="1517.4" width="13" height="50"/><rect x="774.5" y="1617.2" width="13" height="50"/><rect x="774.5" y="1717" width="13" height="50"/><rect x="774.5" y="1816.8" width="13" height="50"/><rect x="774.5" y="1916.6" width="13" height="50"/><rect x="774.5" y="2016.4" width="13" height="50"/><rect x="774.5" y="2116.2" width="13" height="47.3"/>
<rect x="1154.5" y="1317.8" width="13" height="50"/><rect x="1154.5" y="1417.6" width="13" height="50"/><rect x="1154.5" y="1517.4" width="13" height="50"/><rect x="1154.5" y="1617.2" width="13" height="50"/><rect x="1154.5" y="1717" width="13" height="50"/><rect x="1154.5" y="1816.8" width="13" height="50"/><rect x="1154.5" y="1916.6" width="13" height="50"/><rect x="1154.5" y="2016.4" width="13" height="50"/><rect x="1154.5" y="2116.2" width="13" height="47.3"/>
<rect x="1534.5" y="1317.8" width="13" height="50"/><rect x="1534.5" y="1417.6" width="13" height="50"/><rect x="1534.5" y="1517.4" width="13" height="50"/><rect x="1534.5" y="1617.2" width="13" height="50"/><rect x="1534.5" y="1717" width="13" height="50"/><rect x="1534.5" y="1816.8" width="13" height="50"/><rect x="1534.5" y="1916.6" width="13" height="50"/><rect x="1534.5" y="2016.4" width="13" height="50"/><rect x="1534.5" y="2116.2" width="13" height="47.3"/>
</g>
<rect x="401" y="1286.5" width="1520" height="877" fill="none" stroke="#262626" stroke-width="13.5"/>
<rect x="393" y="2163.5" width="8" height="8" fill="#fff"/>
<path d="M401 1432.7h21M1921 1432.7h-21M401 1725h21M1921 1725h-21M401 2017.3h21M1921 2017.3h-21M781 1286.5v21M781 2163.5v-21M1161 1286.5v21M1161 2163.5v-21M1541 1286.5v21M1541 2163.5v-21" stroke="#262626" stroke-width="13" fill="none"/>
<clipPath id="clip2"><rect x="401" y="1286.5" width="1520" height="877"/></clipPath>
<g clip-path="url(#clip2)">
<path d="M407.8 1528.5L410.1 1640.5L412.4 1536.1L414.7 1614.7L417 1513.7L419.2 1625.9L421.5 1539.1L423.8 1610.9L426.1 1533L428.4 1622.3L430.6 1522.3L432.9 1640.6L435.2 1482.6L437.5 1620.4L439.8 1495.3L442 1662.5L444.3 1507.9L446.6 1620.3L448.9 1523.6L451.2 1609.5L453.4 1418L455.7 1616.5L458 1501L460.3 1621.9L462.6 1501.2L464.8 1624.7L467.1 1532.8L469.4 1620.1L471.7 1542.4L474 1635.7L476.2 1609.7L478.5 1812.4L480.8 1809.2L483.1 1851.5L485.4 1812.2L487.6 1855.4L489.9 1806.6L492.2 1865.1L494.5 1815.2L496.8 1871.1L499 1811.8L501.3 1903.2L503.6 1813.5L505.9 1887.3L508.2 1824.9L510.4 1888.7L512.7 1828.4L515 1907.4L517.3 1815.3L519.6 1887.4L521.8 1827.9L524.1 1911.1L526.4 1826L528.7 1902.3L531 1834.7L533.2 1911.1L535.5 1832.7L537.8 1904.5L540.1 1836.5L542.4 1919.2L544.6 1841.2L546.9 1921L549.2 1838.3L551.5 1902.1L553.8 1852.6L556 1926L558.3 1862.9L560.6 1936.9L562.9 1867.3L565.2 2012.9L567.4 1871.9L569.7 1964.1L572 1845.4L574.3 1960.4L576.6 1873.2L578.8 1962.4L581.1 1868L583.4 1960L585.7 1875.2L588 1969.8L590.2 1890.3L592.5 2021.7L594.8 1869.8L597.1 1972.9L599.4 1837.8L601.6 1959.8L603.9 1883L606.2 1967.9L608.5 1878L610.8 1949L613 1857L615.3 1954.2L617.6 1832.5L619.9 1978.1L622.2 1863.4L624.4 1946.7L626.7 1757.4L629 1655.1L631.3 1609.1L633.6 1656.8L635.8 1602.5L638.1 1679.5L640.4 1597.3L642.7 1656.2L645 1568.7L647.2 1665.3L649.5 1599.9L651.8 1653.4L654.1 1589.6L656.4 1676.6L658.6 1567.2L660.9 1651.3L663.2 1570.7L665.5 1658.4L667.8 1567.7L670 1659.7L672.3 1577.1L674.6 1680.3L676.9 1573.7L679.2 1650.2L681.4 1555.8L683.7 1666.8L686 1567.4L688.3 1641.5L690.6 1551.2L692.8 1664.2L695.1 1573.9L697.4 1660.9L699.7 1566.4L702 1629.4L704.2 1548.1L706.5 1627.5L708.8 1529.1L711.1 1616.4L713.4 1538.1L715.6 1624.4L717.9 1536.4L720.2 1652.8L722.5 1534.9L724.8 1647.2L727 1495.6L729.3 1637.9L731.6 1518L733.9 1637.5L736.2 1498.5L738.4 1611.9L740.7 1518.3L743 1623.5L745.3 1479L747.6 1650.7L749.8 1454.6L752.1 1610.6L754.4 1479.8L756.7 1613.2L759 1418L761.2 1644.4L763.5 1528.3L765.8 1643.2L768.1 1505.8L770.4 1620.1L772.6 1525.7L774.9 1611.5L777.2 1542.4L779.5 1652.2L781.8 1717.9L784 1846.9L786.3 1809.8L788.6 1853.3L790.9 1800.4L793.2 1856.6L795.4 1808L797.7 1865.8L800 1822.6L802.3 1876.3L804.6 1817.4L806.8 1908.2L809.1 1825.8L811.4 1917.1L813.7 1828.2L816 1915.6L818.2 1812.4L820.5 1910.3L822.8 1811.1L825.1 1919.2L827.4 1805.8L829.6 1901.1L831.9 1825.4L834.2 1890.5L836.5 1829L838.8 1902.8L841 1822.6L843.3 1928.3L845.6 1832.2L847.9 1916.6L850.2 1816.4L852.4 1933.9L854.7 1813.3L857 1912.2L859.3 1832.6L861.6 1926.1L863.8 1853L866.1 1938.8L868.4 1871.3L870.7 1950.9L873 2012.9L875.2 1956.3L877.5 1880.5L879.8 1987.1L882.1 1873.8L884.4 1994.9L886.6 1853.5L888.9 1963.4L891.2 1876.1L893.5 1974.6L895.8 2021.7L898 1996.8L900.3 1851.2L902.6 2006.7L904.9 1881.6L907.2 1955.9L909.4 1873.2L911.7 1962.2L914 1858.8L916.3 1996.1L918.6 1855.9L920.8 1974.2L923.1 1861L925.4 1973.5L927.7 1865.7L930 1883.1L932.2 1661.3L934.5 1686.7L936.8 1609L939.1 1673.8L941.4 1588.6L943.6 1661.4L945.9 1598.1L948.2 1655.3L950.5 1594.8L952.8 1657.2L955 1590L957.3 1664.2L959.6 1567.6L961.9 1659.1L964.2 1591.4L966.4 1663.3L968.7 1582.1L971 1649.6L973.3 1586.4L975.6 1647.2L977.8 1586.8L980.1 1647.1L982.4 1552.7L984.7 1646.9L987 1565.2L989.2 1674.5L991.5 1583.1L993.8 1668.6L996.1 1585.3L998.4 1660.7L1000.6 1551.3L1002.9 1631L1005.2 1546.2L1007.5 1623.3L1009.8 1521.3L1012 1647.7L1014.3 1543.6L1016.6 1642.4L1018.9 1540.6L1021.2 1645.8L1023.4 1548.1L1025.7 1618.2L1028 1528.8L1030.3 1627.4L1032.6 1532.9L1034.8 1626.7L1037.1 1534.9L1039.4 1618.6L1041.7 1526L1044 1615.5L1046.2 1482L1048.5 1625.2L1050.8 1522L1053.1 1640.2L1055.4 1488.5L1057.6 1614.7L1059.9 1499.8L1062.2 1435.6L1064.5 1529.1L1066.8 1616.1L1069 1537.3L1071.3 1642.4L1073.6 1526.9L1075.9 1608.7L1078.2 1519.3L1080.4 1611.5L1082.7 1508.6L1085 1724.4L1087.3 1807.3L1089.6 1847.5L1091.8 1813.6L1094.1 1852.7L1096.4 1813.2L1098.7 1876.8L1101 1813.8L1103.2 1882.5L1105.5 1821.4L1107.8 1879L1110.1 1823.6L1112.4 1882.2L1114.6 1827.7L1116.9 1893.7L1119.2 1827.7L1121.5 1894L1123.8 1829.7L1126 1908L1128.3 1801.6L1130.6 1889.7L1132.9 1826.9L1135.2 1903L1137.4 1827.9L1139.7 1896L1142 1814.4L1144.3 1896L1146.6 1806.2L1148.8 1901.1L1151.1 1830.5L1153.4 1933.8L1155.7 1836L1158 1912L1160.2 1820.8L1162.5 1910.6L1164.8 1836.1L1167.1 1959.8L1169.4 1856.5L1171.6 1945.9L1173.9 1879L1176.2 1959.1L1178.5 1880.6L1180.8 1980.6L1183 2012.9L1185.3 1966.7L1187.6 1885.5L1189.9 2001L1192.2 1874.9L1194.4 2004.8L1196.7 1846.7L1199 1963.5L1201.3 1845.4L1203.6 2002.1L1205.8 1874.2L1208.1 1957.4L1210.4 1856L1212.7 1967.9L1215 1843.2L1217.2 1958.2L1219.5 1872.4L1221.8 1960.2L1224.1 1865.7L1226.4 1949.4L1228.6 1832L1230.9 1976.2L1233.2 1824.5L1235.5 1778.3L1237.8 1603.5L1240 1663.3L1242.3 1599.3L1244.6 1665.4L1246.9 1594L1249.2 1656L1251.4 1578.5L1253.7 1672.5L1256 1577.2L1258.3 1653.9L1260.6 1586.8L1262.8 1671.3L1265.1 1551.2L1267.4 1675.9L1269.7 1587.9L1272 1663.9L1274.2 1579.2L1276.5 1656.6L1278.8 1590.1L1281.1 1647L1283.4 1553.2L1285.6 1655.7L1287.9 1584.8L1290.2 1641.7L1292.5 1550.2L1294.8 1639.7L1297 1578.7L1299.3 1647.9L1301.6 1564.3L1303.9 1635.3L1306.2 1569.8L1308.4 1645.3L1310.7 1560.5L1313 1623.2L1315.3 1542.6L1317.6 1621.5L1319.8 1542.3L1322.1 1625.9L1324.4 1538.4L1326.7 1639.9L1329 1513.7L1331.2 1631.2L1333.5 1531.5L1335.8 1613.9L1338.1 1537.7L1340.4 1615.3L1342.6 1480.7L1344.9 1655.2L1347.2 1529.3L1349.5 1620.1L1351.8 1506.8L1354 1614.8L1356.3 1515.7L1358.6 1641.2L1360.9 1526.2L1363.2 1615.7L1365.4 1359.6L1367.7 1631.9L1370 1534L1372.3 1624.9L1374.6 1510.4L1376.8 1638.3L1379.1 1538.2L1381.4 1622.6L1383.7 1502.2L1386 1650.4L1388.2 1611.6L1390.5 1806.1L1392.8 1810L1395.1 1851.4L1397.4 1804.9L1399.6 1858.7L1401.9 1813.1L1404.2 1867.5L1406.5 1807.5L1408.8 1871.2L1411 1827.8L1413.3 1881.5L1415.6 1831.5L1417.9 1881.6L1420.2 1800.6L1422.4 1907.4L1424.7 1829.5L1427 1897.7L1429.3 1834.6L1431.6 1916.1L1433.8 1823.5L1436.1 1912.3L1438.4 1833.1L1440.7 1900.4L1443 1829.5L1445.2 1895.5L1447.5 1829.4L1449.8 1898.5L1452.1 1839.7L1454.4 1902.3L1456.6 1816.6L1458.9 1922.8L1461.2 1837.4L1463.5 1927.7L1465.8 1844L1468 1947.7L1470.3 1852.7L1472.6 1967.7L1474.9 1864.2L1477.2 1989.6L1479.4 2021.7L1481.7 1987.5L1484 1866.1L1486.3 1966.7L1488.6 1881.8L1490.8 1970.6L1493.1 1879.1L1495.4 1965.9L1497.7 1852.2L1500 1965.3L1502.2 2017.3L1504.5 1989.5L1506.8 1869.7L1509.1 1969.5L1511.4 1843.9L1513.6 1964.4L1515.9 1873.3L1518.2 1988.3L1520.5 1880.1L1522.8 1963.7L1525 1874.4L1527.3 1964.5L1529.6 1873.5L1531.9 1956.7L1534.2 1855.5L1536.4 1976.8L1538.7 1725.8L1541 1677.6L1543.3 1606.8L1545.6 1657.9L1547.8 1599.1L1550.1 1666.5L1552.4 1604.6L1554.7 1658.3L1557 1593.6L1559.2 1655.2L1561.5 1564.5L1563.8 1659.4L1566.1 1597.1L1568.4 1676.3L1570.6 1576.1L1572.9 1670.8L1575.2 1565.3L1577.5 1649.2L1579.8 1588.4L1582 1668L1584.3 1540L1586.6 1649.9L1588.9 1582.5L1591.2 1642.9L1593.4 1567.2L1595.7 1671.2L1598 1574.4L1600.3 1667L1602.6 1568.6L1604.8 1638.7L1607.1 1573.7L1609.4 1640.6L1611.7 1544.9L1614 1625.6L1616.2 1552.9L1618.5 1645.9L1620.8 1544.8L1623.1 1654.9L1625.4 1530.3L1627.6 1619.9L1629.9 1545.8L1632.2 1627.9L1634.5 1511L1636.8 1672.1L1639 1493.7L1641.3 1619.4L1643.6 1519.2L1645.9 1622.8L1648.2 1527.8L1650.4 1619.3L1652.7 1480L1655 1654L1657.3 1506.6L1659.6 1623.1L1661.8 1527.3L1664.1 1610L1666.4 1503.4L1668.7 1625.6L1671 1359.6L1673.2 1623.2L1675.5 1527.4L1677.8 1633.5L1680.1 1502.5L1682.4 1636.8L1684.6 1528.1L1686.9 1613.9L1689.2 1519.3L1691.5 1661.4L1693.8 1718.5L1696 1852.7L1698.3 1803.2L1700.6 1864.3L1702.9 1815L1705.2 1855.4L1707.4 1815.3L1709.7 1886.6L1712 1809.3L1714.3 1877.5L1716.6 1804.9L1718.8 1885.8L1721.1 1821L1723.4 1889.5L1725.7 1823.6L1728 1909.9L1730.2 1816.3L1732.5 1916.6L1734.8 1834.4L1737.1 1888.9L1739.4 1825.1L1741.6 1902.1L1743.9 1803L1746.2 1899.2L1748.5 1808.9L1750.8 1894.9L1753 1827.9L1755.3 1925.3L1757.6 1824.4L1759.9 1899.2L1762.2 1807.6L1764.4 1927.5L1766.7 1843.6L1769 1909.1L1771.3 1852.8L1773.6 1927.9L1775.8 2012.9L1778.1 1942.5L1780.4 1844.6L1782.7 1986.1L1785 1870.6L1787.2 1949.4L1789.5 1868L1791.8 1962.4L1794.1 1867.2L1796.4 1972L1798.6 1869.2L1800.9 1987.6L1803.2 1847.2L1805.5 1961.6L1807.8 2021.7L1810 1974.9L1812.3 1874.1L1814.6 2006.8L1816.9 1878.8L1819.2 1989.3L1821.4 1865.9L1823.7 1962.4L1826 1851.1L1828.3 1955L1830.6 1858.8L1832.8 1986.9L1835.1 1854.7L1837.4 1949.3L1839.7 1851.7L1842 1887.8L1844.2 1618.5L1846.5 1667.4L1848.8 1601.6L1851.1 1661.7L1853.4 1580.7L1855.6 1670.7L1857.9 1575.2L1860.2 1661.6L1862.5 1579L1864.8 1655.6L1867 1597.1L1869.3 1683.8L1871.6 1587.8L1873.9 1651.7L1876.2 1589.5L1878.4 1658.5L1880.7 1569.6L1883 1673.5L1885.3 1581.7L1887.6 1655.7L1889.8 1552.5L1892.1 1674.9L1894.4 1574.2L1896.7 1674.1L1899 1585.7L1901.2 1646L1903.5 1579.2L1905.8 1639.6L1908.1 1580.7L1910.4 1636.3L1912.6 1576.4L1914.9 1634.6L1917.2 1571.9" fill="none" stroke="#D95319" stroke-width="7" stroke-linejoin="round" stroke-linecap="round"/>
<path d="M401 1556.9L401.8 1554.7L402.5 1552.5L403.3 1550.3L404 1548.1L404.8 1545.9L405.6 1543.8L406.3 1541.6L407.1 1539.4L407.8 1537.2L408.6 1535L409.4 1532.8L410.1 1530.6L410.9 1528.4L411.6 1526.2L412.4 1524L413.2 1522L413.9 1520.1L414.7 1518.3L415.4 1516.7L416.2 1515.2L417 1513.9L417.7 1512.7L418.5 1511.6L419.2 1510.7L420 1509.9L420.8 1509.3L421.5 1508.7L422.3 1508L423 1507.4L423.8 1506.8L424.6 1506.2L425.3 1505.5L426.1 1504.9L426.8 1504.3L427.6 1503.7L428.4 1503L429.1 1502.4L429.9 1501.8L430.6 1501.2L431.4 1500.7L432.2 1500.6L432.9 1500.9L433.7 1501.6L434.4 1502.6L435.2 1504L436 1505.8L436.7 1508L437.5 1510.5L438.2 1513.4L439 1516.6L439.8 1520.1L440.5 1523.5L441.3 1526.9L442 1530.4L442.8 1533.8L443.6 1537.2L444.3 1540.7L445.1 1544.1L445.8 1547.6L446.6 1551L447.4 1554.4L448.1 1557.9L448.9 1561.3L449.6 1564.8L450.4 1568.2L451.2 1571.6L451.9 1575.1L452.7 1578.5L453.4 1581.9L454.2 1585.4L455 1588.8L455.7 1592.3L456.5 1595.7L457.2 1599.1L458 1602.6L458.8 1606.1L459.5 1609.8L460.3 1613.7L461 1617.6L461.8 1621.7L462.6 1626L463.3 1630.3L464.1 1634.8L464.8 1639.5L465.6 1644.2L466.4 1649.1L467.1 1654L467.9 1658.9L468.6 1663.8L469.4 1668.7L470.2 1673.6L470.9 1678.5L471.7 1683.4L472.4 1688.3L473.2 1693.2L474 1697.9L474.7 1702.4L475.5 1706.7L476.2 1710.7L477 1714.6L477.8 1718.2L478.5 1721.7L479.3 1724.9L480 1727.9L480.8 1730.8L481.6 1733.4L482.3 1736L483.1 1738.6L483.8 1741.2L484.6 1743.8L485.4 1746.4L486.1 1749.1L486.9 1751.7L487.6 1754.3L488.4 1756.9L489.2 1759.5L489.9 1762.1L490.7 1764.7L491.4 1767.3L492.2 1770L493 1772.6L493.7 1775.2L494.5 1777.8L495.2 1780.4L496 1783L496.8 1785.6L497.5 1788.3L498.3 1790.9L499 1792.9L499.8 1794.5L500.6 1795.5L501.3 1796L502.1 1796L502.8 1795.5L503.6 1794.4L504.4 1792.8L505.1 1790.6L505.9 1788L506.6 1784.8L507.4 1781.6L508.2 1778.4L508.9 1775.2L509.7 1772L510.4 1768.8L511.2 1765.6L512 1762.4L512.7 1759.2L513.5 1756L514.2 1752.8L515 1749.6L515.8 1746.4L516.5 1743.2L517.3 1740L518 1736.9L518.8 1733.7L519.6 1730.6L520.3 1727.7L521.1 1725L521.8 1722.5L522.6 1720.1L523.4 1717.8L524.1 1715.7L524.9 1713.8L525.6 1712L526.4 1710.4L527.2 1708.9L527.9 1707.5L528.7 1706L529.4 1704.5L530.2 1703.1L531 1701.5L531.7 1699.9L532.5 1698.2L533.2 1696.4L534 1694.6L534.8 1692.6L535.5 1690.6L536.3 1688.5L537 1686.3L537.8 1684.1L538.6 1681.7L539.3 1679.4L540.1 1677.1L540.8 1674.7L541.6 1672.4L542.4 1670L543.1 1667.7L543.9 1665.4L544.6 1663L545.4 1660.7L546.2 1658.3L546.9 1656L547.7 1653.7L548.4 1651.3L549.2 1649L550 1646.7L550.7 1644.3L551.5 1642L552.2 1639.6L553 1637.3M553 1893.1L553.8 1895.3L554.5 1897.5L555.3 1899.7L556 1901.9L556.8 1904.1L557.6 1906.2L558.3 1908.4L559.1 1910.6L559.8 1912.8L560.6 1915L561.4 1917.2L562.1 1919.4L562.9 1921.6L563.6 1923.8L564.4 1926L565.2 1928L565.9 1929.9L566.7 1931.7L567.4 1933.3L568.2 1934.8L569 1936.1L569.7 1937.3L570.5 1938.4L571.2 1939.3L572 1940.1L572.8 1940.7L573.5 1941.3L574.3 1942L575 1942.6L575.8 1943.2L576.6 1943.8L577.3 1944.5L578.1 1945.1L578.8 1945.7L579.6 1946.3L580.4 1947L581.1 1947.6L581.9 1948.2L582.6 1948.8L583.4 1949.3L584.2 1949.4L584.9 1949.1L585.7 1948.4L586.4 1947.4L587.2 1946L588 1944.2L588.7 1942L589.5 1939.5L590.2 1936.6L591 1933.4L591.8 1929.9L592.5 1926.5L593.3 1923.1L594 1919.6L594.8 1916.2L595.6 1912.8L596.3 1909.3L597.1 1905.9L597.8 1902.4L598.6 1899L599.4 1895.6L600.1 1892.1L600.9 1888.7L601.6 1885.2L602.4 1881.8L603.2 1878.4L603.9 1874.9L604.7 1871.5L605.4 1868.1L606.2 1864.6L607 1861.2L607.7 1857.7L608.5 1854.3L609.2 1850.9L610 1847.4L610.8 1843.9L611.5 1840.2L612.3 1836.3L613 1832.4L613.8 1828.3L614.6 1824L615.3 1819.7L616.1 1815.2L616.8 1810.5L617.6 1805.8L618.4 1800.9L619.1 1796L619.9 1791.1L620.6 1786.2L621.4 1781.3L622.2 1776.4L622.9 1771.5L623.7 1766.6L624.4 1761.7L625.2 1756.8L626 1752.1L626.7 1747.6L627.5 1743.3L628.2 1739.3L629 1735.4L629.8 1731.8L630.5 1728.3L631.3 1725.1L632 1722.1L632.8 1719.2L633.6 1716.6L634.3 1714L635.1 1711.4L635.8 1708.8L636.6 1706.2L637.4 1703.6L638.1 1700.9L638.9 1698.3L639.6 1695.7L640.4 1693.1L641.2 1690.5L641.9 1687.9L642.7 1685.3L643.4 1682.7L644.2 1680L645 1677.4L645.7 1674.8L646.5 1672.2L647.2 1669.6L648 1667L648.8 1664.4L649.5 1661.7L650.3 1659.1L651 1657.1L651.8 1655.5L652.6 1654.5L653.3 1654L654.1 1654L654.8 1654.5L655.6 1655.6L656.4 1657.2L657.1 1659.4L657.9 1662L658.6 1665.2L659.4 1668.4L660.2 1671.6L660.9 1674.8L661.7 1678L662.4 1681.2L663.2 1684.4L664 1687.6L664.7 1690.8L665.5 1694L666.2 1697.2L667 1700.4L667.8 1703.6L668.5 1706.8L669.3 1710L670 1713.1L670.8 1716.3L671.6 1719.4L672.3 1722.3L673.1 1725L673.8 1727.5L674.6 1729.9L675.4 1732.2L676.1 1734.3L676.9 1736.2L677.6 1738L678.4 1739.6L679.2 1741.1L679.9 1742.5L680.7 1744L681.4 1745.5L682.2 1746.9L683 1748.5L683.7 1750.1L684.5 1751.8L685.2 1753.6L686 1755.4L686.8 1757.4L687.5 1759.4L688.3 1761.5L689 1763.7L689.8 1765.9L690.6 1768.3L691.3 1770.6L692.1 1772.9L692.8 1775.3L693.6 1777.6L694.4 1780L695.1 1782.3L695.9 1784.6L696.6 1787L697.4 1789.3L698.2 1791.7L698.9 1794L699.7 1796.3L700.4 1798.7L701.2 1801L702 1803.3L702.7 1805.7L703.5 1808L704.2 1810.4L705 1812.7M705 1556.9L705.8 1554.7L706.5 1552.5L707.3 1550.3L708 1548.1L708.8 1545.9L709.6 1543.8L710.3 1541.6L711.1 1539.4L711.8 1537.2L712.6 1535L713.4 1532.8L714.1 1530.6L714.9 1528.4L715.6 1526.2L716.4 1524L717.2 1522L717.9 1520.1L718.7 1518.3L719.4 1516.7L720.2 1515.2L721 1513.9L721.7 1512.7L722.5 1511.6L723.2 1510.7L724 1509.9L724.8 1509.3L725.5 1508.7L726.3 1508L727 1507.4L727.8 1506.8L728.6 1506.2L729.3 1505.5L730.1 1504.9L730.8 1504.3L731.6 1503.7L732.4 1503L733.1 1502.4L733.9 1501.8L734.6 1501.2L735.4 1500.7L736.2 1500.6L736.9 1500.9L737.7 1501.6L738.4 1502.6L739.2 1504L740 1505.8L740.7 1508L741.5 1510.5L742.2 1513.4L743 1516.6L743.8 1520.1L744.5 1523.5L745.3 1526.9L746 1530.4L746.8 1533.8L747.6 1537.2L748.3 1540.7L749.1 1544.1L749.8 1547.6L750.6 1551L751.4 1554.4L752.1 1557.9L752.9 1561.3L753.6 1564.8L754.4 1568.2L755.2 1571.6L755.9 1575.1L756.7 1578.5L757.4 1581.9L758.2 1585.4L759 1588.8L759.7 1592.3L760.5 1595.7L761.2 1599.1L762 1602.6L762.8 1606.1L763.5 1609.8L764.3 1613.7L765 1617.6L765.8 1621.7L766.6 1626L767.3 1630.3L768.1 1634.8L768.8 1639.5L769.6 1644.2L770.4 1649.1L771.1 1654L771.9 1658.9L772.6 1663.8L773.4 1668.7L774.2 1673.6L774.9 1678.5L775.7 1683.4L776.4 1688.3L777.2 1693.2L778 1697.9L778.7 1702.4L779.5 1706.7L780.2 1710.7L781 1714.6L781.8 1718.2L782.5 1721.7L783.3 1724.9L784 1727.9L784.8 1730.8L785.6 1733.4L786.3 1736L787.1 1738.6L787.8 1741.2L788.6 1743.8L789.4 1746.4L790.1 1749.1L790.9 1751.7L791.6 1754.3L792.4 1756.9L793.2 1759.5L793.9 1762.1L794.7 1764.7L795.4 1767.3L796.2 1770L797 1772.6L797.7 1775.2L798.5 1777.8L799.2 1780.4L800 1783L800.8 1785.6L801.5 1788.3L802.3 1790.9L803 1792.9L803.8 1794.5L804.6 1795.5L805.3 1796L806.1 1796L806.8 1795.5L807.6 1794.4L808.4 1792.8L809.1 1790.6L809.9 1788L810.6 1784.8L811.4 1781.6L812.2 1778.4L812.9 1775.2L813.7 1772L814.4 1768.8L815.2 1765.6L816 1762.4L816.7 1759.2L817.5 1756L818.2 1752.8L819 1749.6L819.8 1746.4L820.5 1743.2L821.3 1740L822 1736.9L822.8 1733.7L823.6 1730.6L824.3 1727.7L825.1 1725L825.8 1722.5L826.6 1720.1L827.4 1717.8L828.1 1715.7L828.9 1713.8L829.6 1712L830.4 1710.4L831.2 1708.9L831.9 1707.5L832.7 1706L833.4 1704.5L834.2 1703.1L835 1701.5L835.7 1699.9L836.5 1698.2L837.2 1696.4L838 1694.6L838.8 1692.6L839.5 1690.6L840.3 1688.5L841 1686.3L841.8 1684.1L842.6 1681.7L843.3 1679.4L844.1 1677.1L844.8 1674.7L845.6 1672.4L846.4 1670L847.1 1667.7L847.9 1665.4L848.6 1663L849.4 1660.7L850.2 1658.3L850.9 1656L851.7 1653.7L852.4 1651.3L853.2 1649L854 1646.7L854.7 1644.3L855.5 1642L856.2 1639.6L857 1637.3M857 1893.1L857.8 1895.3L858.5 1897.5L859.3 1899.7L860 1901.9L860.8 1904.1L861.6 1906.2L862.3 1908.4L863.1 1910.6L863.8 1912.8L864.6 1915L865.4 1917.2L866.1 1919.4L866.9 1921.6L867.6 1923.8L868.4 1926L869.2 1928L869.9 1929.9L870.7 1931.7L871.4 1933.3L872.2 1934.8L873 1936.1L873.7 1937.3L874.5 1938.4L875.2 1939.3L876 1940.1L876.8 1940.7L877.5 1941.3L878.3 1942L879 1942.6L879.8 1943.2L880.6 1943.8L881.3 1944.5L882.1 1945.1L882.8 1945.7L883.6 1946.3L884.4 1947L885.1 1947.6L885.9 1948.2L886.6 1948.8L887.4 1949.3L888.2 1949.4L888.9 1949.1L889.7 1948.4L890.4 1947.4L891.2 1946L892 1944.2L892.7 1942L893.5 1939.5L894.2 1936.6L895 1933.4L895.8 1929.9L896.5 1926.5L897.3 1923.1L898 1919.6L898.8 1916.2L899.6 1912.8L900.3 1909.3L901.1 1905.9L901.8 1902.4L902.6 1899L903.4 1895.6L904.1 1892.1L904.9 1888.7L905.6 1885.2L906.4 1881.8L907.2 1878.4L907.9 1874.9L908.7 1871.5L909.4 1868.1L910.2 1864.6L911 1861.2L911.7 1857.7L912.5 1854.3L913.2 1850.9L914 1847.4L914.8 1843.9L915.5 1840.2L916.3 1836.3L917 1832.4L917.8 1828.3L918.6 1824L919.3 1819.7L920.1 1815.2L920.8 1810.5L921.6 1805.8L922.4 1800.9L923.1 1796L923.9 1791.1L924.6 1786.2L925.4 1781.3L926.2 1776.4L926.9 1771.5L927.7 1766.6L928.4 1761.7L929.2 1756.8L930 1752.1L930.7 1747.6L931.5 1743.3L932.2 1739.3L933 1735.4L933.8 1731.8L934.5 1728.3L935.3 1725.1L936 1722.1L936.8 1719.2L937.6 1716.6L938.3 1714L939.1 1711.4L939.8 1708.8L940.6 1706.2L941.4 1703.6L942.1 1700.9L942.9 1698.3L943.6 1695.7L944.4 1693.1L945.2 1690.5L945.9 1687.9L946.7 1685.3L947.4 1682.7L948.2 1680L949 1677.4L949.7 1674.8L950.5 1672.2L951.2 1669.6L952 1667L952.8 1664.4L953.5 1661.7L954.3 1659.1L955 1657.1L955.8 1655.5L956.6 1654.5L957.3 1654L958.1 1654L958.8 1654.5L959.6 1655.6L960.4 1657.2L961.1 1659.4L961.9 1662L962.6 1665.2L963.4 1668.4L964.2 1671.6L964.9 1674.8L965.7 1678L966.4 1681.2L967.2 1684.4L968 1687.6L968.7 1690.8L969.5 1694L970.2 1697.2L971 1700.4L971.8 1703.6L972.5 1706.8L973.3 1710L974 1713.1L974.8 1716.3L975.6 1719.4L976.3 1722.3L977.1 1725L977.8 1727.5L978.6 1729.9L979.4 1732.2L980.1 1734.3L980.9 1736.2L981.6 1738L982.4 1739.6L983.2 1741.1L983.9 1742.5L984.7 1744L985.4 1745.5L986.2 1746.9L987 1748.5L987.7 1750.1L988.5 1751.8L989.2 1753.6L990 1755.4L990.8 1757.4L991.5 1759.4L992.3 1761.5L993 1763.7L993.8 1765.9L994.6 1768.3L995.3 1770.6L996.1 1772.9L996.8 1775.3L997.6 1777.6L998.4 1780L999.1 1782.3L999.9 1784.6L1000.6 1787L1001.4 1789.3L1002.2 1791.7L1002.9 1794L1003.7 1796.3L1004.4 1798.7L1005.2 1801L1006 1803.3L1006.7 1805.7L1007.5 1808L1008.2 1810.4L1009 1812.7M1009 1556.9L1009.8 1554.7L1010.5 1552.5L1011.3 1550.3L1012 1548.1L1012.8 1545.9L1013.6 1543.8L1014.3 1541.6L1015.1 1539.4L1015.8 1537.2L1016.6 1535L1017.4 1532.8L1018.1 1530.6L1018.9 1528.4L1019.6 1526.2L1020.4 1524L1021.2 1522L1021.9 1520.1L1022.7 1518.3L1023.4 1516.7L1024.2 1515.2L1025 1513.9L1025.7 1512.7L1026.5 1511.6L1027.2 1510.7L1028 1509.9L1028.8 1509.3L1029.5 1508.7L1030.3 1508L1031 1507.4L1031.8 1506.8L1032.6 1506.2L1033.3 1505.5L1034.1 1504.9L1034.8 1504.3L1035.6 1503.7L1036.4 1503L1037.1 1502.4L1037.9 1501.8L1038.6 1501.2L1039.4 1500.7L1040.2 1500.6L1040.9 1500.9L1041.7 1501.6L1042.4 1502.6L1043.2 1504L1044 1505.8L1044.7 1508L1045.5 1510.5L1046.2 1513.4L1047 1516.6L1047.8 1520.1L1048.5 1523.5L1049.3 1526.9L1050 1530.4L1050.8 1533.8L1051.6 1537.2L1052.3 1540.7L1053.1 1544.1L1053.8 1547.6L1054.6 1551L1055.4 1554.4L1056.1 1557.9L1056.9 1561.3L1057.6 1564.8L1058.4 1568.2L1059.2 1571.6L1059.9 1575.1L1060.7 1578.5L1061.4 1581.9L1062.2 1585.4L1063 1588.8L1063.7 1592.3L1064.5 1595.7L1065.2 1599.1L1066 1602.6L1066.8 1606.1L1067.5 1609.8L1068.3 1613.7L1069 1617.6L1069.8 1621.7L1070.6 1626L1071.3 1630.3L1072.1 1634.8L1072.8 1639.5L1073.6 1644.2L1074.4 1649.1L1075.1 1654L1075.9 1658.9L1076.6 1663.8L1077.4 1668.7L1078.2 1673.6L1078.9 1678.5L1079.7 1683.4L1080.4 1688.3L1081.2 1693.2L1082 1697.9L1082.7 1702.4L1083.5 1706.7L1084.2 1710.7L1085 1714.6L1085.8 1718.2L1086.5 1721.7L1087.3 1724.9L1088 1727.9L1088.8 1730.8L1089.6 1733.4L1090.3 1736L1091.1 1738.6L1091.8 1741.2L1092.6 1743.8L1093.4 1746.4L1094.1 1749.1L1094.9 1751.7L1095.6 1754.3L1096.4 1756.9L1097.2 1759.5L1097.9 1762.1L1098.7 1764.7L1099.4 1767.3L1100.2 1770L1101 1772.6L1101.7 1775.2L1102.5 1777.8L1103.2 1780.4L1104 1783L1104.8 1785.6L1105.5 1788.3L1106.3 1790.9L1107 1792.9L1107.8 1794.5L1108.6 1795.5L1109.3 1796L1110.1 1796L1110.8 1795.5L1111.6 1794.4L1112.4 1792.8L1113.1 1790.6L1113.9 1788L1114.6 1784.8L1115.4 1781.6L1116.2 1778.4L1116.9 1775.2L1117.7 1772L1118.4 1768.8L1119.2 1765.6L1120 1762.4L1120.7 1759.2L1121.5 1756L1122.2 1752.8L1123 1749.6L1123.8 1746.4L1124.5 1743.2L1125.3 1740L1126 1736.9L1126.8 1733.7L1127.6 1730.6L1128.3 1727.7L1129.1 1725L1129.8 1722.5L1130.6 1720.1L1131.4 1717.8L1132.1 1715.7L1132.9 1713.8L1133.6 1712L1134.4 1710.4L1135.2 1708.9L1135.9 1707.5L1136.7 1706L1137.4 1704.5L1138.2 1703.1L1139 1701.5L1139.7 1699.9L1140.5 1698.2L1141.2 1696.4L1142 1694.6L1142.8 1692.6L1143.5 1690.6L1144.3 1688.5L1145 1686.3L1145.8 1684.1L1146.6 1681.7L1147.3 1679.4L1148.1 1677.1L1148.8 1674.7L1149.6 1672.4L1150.4 1670L1151.1 1667.7L1151.9 1665.4L1152.6 1663L1153.4 1660.7L1154.2 1658.3L1154.9 1656L1155.7 1653.7L1156.4 1651.3L1157.2 1649L1158 1646.7L1158.7 1644.3L1159.5 1642L1160.2 1639.6L1161 1637.3M1161 1893.1L1161.8 1895.3L1162.5 1897.5L1163.3 1899.7L1164 1901.9L1164.8 1904.1L1165.6 1906.2L1166.3 1908.4L1167.1 1910.6L1167.8 1912.8L1168.6 1915L1169.4 1917.2L1170.1 1919.4L1170.9 1921.6L1171.6 1923.8L1172.4 1926L1173.2 1928L1173.9 1929.9L1174.7 1931.7L1175.4 1933.3L1176.2 1934.8L1177 1936.1L1177.7 1937.3L1178.5 1938.4L1179.2 1939.3L1180 1940.1L1180.8 1940.7L1181.5 1941.3L1182.3 1942L1183 1942.6L1183.8 1943.2L1184.6 1943.8L1185.3 1944.5L1186.1 1945.1L1186.8 1945.7L1187.6 1946.3L1188.4 1947L1189.1 1947.6L1189.9 1948.2L1190.6 1948.8L1191.4 1949.3L1192.2 1949.4L1192.9 1949.1L1193.7 1948.4L1194.4 1947.4L1195.2 1946L1196 1944.2L1196.7 1942L1197.5 1939.5L1198.2 1936.6L1199 1933.4L1199.8 1929.9L1200.5 1926.5L1201.3 1923.1L1202 1919.6L1202.8 1916.2L1203.6 1912.8L1204.3 1909.3L1205.1 1905.9L1205.8 1902.4L1206.6 1899L1207.4 1895.6L1208.1 1892.1L1208.9 1888.7L1209.6 1885.2L1210.4 1881.8L1211.2 1878.4L1211.9 1874.9L1212.7 1871.5L1213.4 1868.1L1214.2 1864.6L1215 1861.2L1215.7 1857.7L1216.5 1854.3L1217.2 1850.9L1218 1847.4L1218.8 1843.9L1219.5 1840.2L1220.3 1836.3L1221 1832.4L1221.8 1828.3L1222.6 1824L1223.3 1819.7L1224.1 1815.2L1224.8 1810.5L1225.6 1805.8L1226.4 1800.9L1227.1 1796L1227.9 1791.1L1228.6 1786.2L1229.4 1781.3L1230.2 1776.4L1230.9 1771.5L1231.7 1766.6L1232.4 1761.7L1233.2 1756.8L1234 1752.1L1234.7 1747.6L1235.5 1743.3L1236.2 1739.3L1237 1735.4L1237.8 1731.8L1238.5 1728.3L1239.3 1725.1L1240 1722.1L1240.8 1719.2L1241.6 1716.6L1242.3 1714L1243.1 1711.4L1243.8 1708.8L1244.6 1706.2L1245.4 1703.6L1246.1 1700.9L1246.9 1698.3L1247.6 1695.7L1248.4 1693.1L1249.2 1690.5L1249.9 1687.9L1250.7 1685.3L1251.4 1682.7L1252.2 1680L1253 1677.4L1253.7 1674.8L1254.5 1672.2L1255.2 1669.6L1256 1667L1256.8 1664.4L1257.5 1661.7L1258.3 1659.1L1259 1657.1L1259.8 1655.5L1260.6 1654.5L1261.3 1654L1262.1 1654L1262.8 1654.5L1263.6 1655.6L1264.4 1657.2L1265.1 1659.4L1265.9 1662L1266.6 1665.2L1267.4 1668.4L1268.2 1671.6L1268.9 1674.8L1269.7 1678L1270.4 1681.2L1271.2 1684.4L1272 1687.6L1272.7 1690.8L1273.5 1694L1274.2 1697.2L1275 1700.4L1275.8 1703.6L1276.5 1706.8L1277.3 1710L1278 1713.1L1278.8 1716.3L1279.6 1719.4L1280.3 1722.3L1281.1 1725L1281.8 1727.5L1282.6 1729.9L1283.4 1732.2L1284.1 1734.3L1284.9 1736.2L1285.6 1738L1286.4 1739.6L1287.2 1741.1L1287.9 1742.5L1288.7 1744L1289.4 1745.5L1290.2 1746.9L1291 1748.5L1291.7 1750.1L1292.5 1751.8L1293.2 1753.6L1294 1755.4L1294.8 1757.4L1295.5 1759.4L1296.3 1761.5L1297 1763.7L1297.8 1765.9L1298.6 1768.3L1299.3 1770.6L1300.1 1772.9L1300.8 1775.3L1301.6 1777.6L1302.4 1780L1303.1 1782.3L1303.9 1784.6L1304.6 1787L1305.4 1789.3L1306.2 1791.7L1306.9 1794L1307.7 1796.3L1308.4 1798.7L1309.2 1801L1310 1803.3L1310.7 1805.7L1311.5 1808L1312.2 1810.4L1313 1812.7M1313 1556.9L1313.8 1554.7L1314.5 1552.5L1315.3 1550.3L1316 1548.1L1316.8 1545.9L1317.6 1543.8L1318.3 1541.6L1319.1 1539.4L1319.8 1537.2L1320.6 1535L1321.4 1532.8L1322.1 1530.6L1322.9 1528.4L1323.6 1526.2L1324.4 1524L1325.2 1522L1325.9 1520.1L1326.7 1518.3L1327.4 1516.7L1328.2 1515.2L1329 1513.9L1329.7 1512.7L1330.5 1511.6L1331.2 1510.7L1332 1509.9L1332.8 1509.3L1333.5 1508.7L1334.3 1508L1335 1507.4L1335.8 1506.8L1336.6 1506.2L1337.3 1505.5L1338.1 1504.9L1338.8 1504.3L1339.6 1503.7L1340.4 1503L1341.1 1502.4L1341.9 1501.8L1342.6 1501.2L1343.4 1500.7L1344.2 1500.6L1344.9 1500.9L1345.7 1501.6L1346.4 1502.6L1347.2 1504L1348 1505.8L1348.7 1508L1349.5 1510.5L1350.2 1513.4L1351 1516.6L1351.8 1520.1L1352.5 1523.5L1353.3 1526.9L1354 1530.4L1354.8 1533.8L1355.6 1537.2L1356.3 1540.7L1357.1 1544.1L1357.8 1547.6L1358.6 1551L1359.4 1554.4L1360.1 1557.9L1360.9 1561.3L1361.6 1564.8L1362.4 1568.2L1363.2 1571.6L1363.9 1575.1L1364.7 1578.5L1365.4 1581.9L1366.2 1585.4L1367 1588.8L1367.7 1592.3L1368.5 1595.7L1369.2 1599.1L1370 1602.6L1370.8 1606.1L1371.5 1609.8L1372.3 1613.7L1373 1617.6L1373.8 1621.7L1374.6 1626L1375.3 1630.3L1376.1 1634.8L1376.8 1639.5L1377.6 1644.2L1378.4 1649.1L1379.1 1654L1379.9 1658.9L1380.6 1663.8L1381.4 1668.7L1382.2 1673.6L1382.9 1678.5L1383.7 1683.4L1384.4 1688.3L1385.2 1693.2L1386 1697.9L1386.7 1702.4L1387.5 1706.7L1388.2 1710.7L1389 1714.6L1389.8 1718.2L1390.5 1721.7L1391.3 1724.9L1392 1727.9L1392.8 1730.8L1393.6 1733.4L1394.3 1736L1395.1 1738.6L1395.8 1741.2L1396.6 1743.8L1397.4 1746.4L1398.1 1749.1L1398.9 1751.7L1399.6 1754.3L1400.4 1756.9L1401.2 1759.5L1401.9 1762.1L1402.7 1764.7L1403.4 1767.3L1404.2 1770L1405 1772.6L1405.7 1775.2L1406.5 1777.8L1407.2 1780.4L1408 1783L1408.8 1785.6L1409.5 1788.3L1410.3 1790.9L1411 1792.9L1411.8 1794.5L1412.6 1795.5L1413.3 1796L1414.1 1796L1414.8 1795.5L1415.6 1794.4L1416.4 1792.8L1417.1 1790.6L1417.9 1788L1418.6 1784.8L1419.4 1781.6L1420.2 1778.4L1420.9 1775.2L1421.7 1772L1422.4 1768.8L1423.2 1765.6L1424 1762.4L1424.7 1759.2L1425.5 1756L1426.2 1752.8L1427 1749.6L1427.8 1746.4L1428.5 1743.2L1429.3 1740L1430 1736.9L1430.8 1733.7L1431.6 1730.6L1432.3 1727.7L1433.1 1725L1433.8 1722.5L1434.6 1720.1L1435.4 1717.8L1436.1 1715.7L1436.9 1713.8L1437.6 1712L1438.4 1710.4L1439.2 1708.9L1439.9 1707.5L1440.7 1706L1441.4 1704.5L1442.2 1703.1L1443 1701.5L1443.7 1699.9L1444.5 1698.2L1445.2 1696.4L1446 1694.6L1446.8 1692.6L1447.5 1690.6L1448.3 1688.5L1449 1686.3L1449.8 1684.1L1450.6 1681.7L1451.3 1679.4L1452.1 1677.1L1452.8 1674.7L1453.6 1672.4L1454.4 1670L1455.1 1667.7L1455.9 1665.4L1456.6 1663L1457.4 1660.7L1458.2 1658.3L1458.9 1656L1459.7 1653.7L1460.4 1651.3L1461.2 1649L1462 1646.7L1462.7 1644.3L1463.5 1642L1464.2 1639.6L1465 1637.3M1465 1893.1L1465.8 1895.3L1466.5 1897.5L1467.3 1899.7L1468 1901.9L1468.8 1904.1L1469.6 1906.2L1470.3 1908.4L1471.1 1910.6L1471.8 1912.8L1472.6 1915L1473.4 1917.2L1474.1 1919.4L1474.9 1921.6L1475.6 1923.8L1476.4 1926L1477.2 1928L1477.9 1929.9L1478.7 1931.7L1479.4 1933.3L1480.2 1934.8L1481 1936.1L1481.7 1937.3L1482.5 1938.4L1483.2 1939.3L1484 1940.1L1484.8 1940.7L1485.5 1941.3L1486.3 1942L1487 1942.6L1487.8 1943.2L1488.6 1943.8L1489.3 1944.5L1490.1 1945.1L1490.8 1945.7L1491.6 1946.3L1492.4 1947L1493.1 1947.6L1493.9 1948.2L1494.6 1948.8L1495.4 1949.3L1496.2 1949.4L1496.9 1949.1L1497.7 1948.4L1498.4 1947.4L1499.2 1946L1500 1944.2L1500.7 1942L1501.5 1939.5L1502.2 1936.6L1503 1933.4L1503.8 1929.9L1504.5 1926.5L1505.3 1923.1L1506 1919.6L1506.8 1916.2L1507.6 1912.8L1508.3 1909.3L1509.1 1905.9L1509.8 1902.4L1510.6 1899L1511.4 1895.6L1512.1 1892.1L1512.9 1888.7L1513.6 1885.2L1514.4 1881.8L1515.2 1878.4L1515.9 1874.9L1516.7 1871.5L1517.4 1868.1L1518.2 1864.6L1519 1861.2L1519.7 1857.7L1520.5 1854.3L1521.2 1850.9L1522 1847.4L1522.8 1843.9L1523.5 1840.2L1524.3 1836.3L1525 1832.4L1525.8 1828.3L1526.6 1824L1527.3 1819.7L1528.1 1815.2L1528.8 1810.5L1529.6 1805.8L1530.4 1800.9L1531.1 1796L1531.9 1791.1L1532.6 1786.2L1533.4 1781.3L1534.2 1776.4L1534.9 1771.5L1535.7 1766.6L1536.4 1761.7L1537.2 1756.8L1538 1752.1L1538.7 1747.6L1539.5 1743.3L1540.2 1739.3L1541 1735.4L1541.8 1731.8L1542.5 1728.3L1543.3 1725.1L1544 1722.1L1544.8 1719.2L1545.6 1716.6L1546.3 1714L1547.1 1711.4L1547.8 1708.8L1548.6 1706.2L1549.4 1703.6L1550.1 1700.9L1550.9 1698.3L1551.6 1695.7L1552.4 1693.1L1553.2 1690.5L1553.9 1687.9L1554.7 1685.3L1555.4 1682.7L1556.2 1680L1557 1677.4L1557.7 1674.8L1558.5 1672.2L1559.2 1669.6L1560 1667L1560.8 1664.4L1561.5 1661.7L1562.3 1659.1L1563 1657.1L1563.8 1655.5L1564.6 1654.5L1565.3 1654L1566.1 1654L1566.8 1654.5L1567.6 1655.6L1568.4 1657.2L1569.1 1659.4L1569.9 1662L1570.6 1665.2L1571.4 1668.4L1572.2 1671.6L1572.9 1674.8L1573.7 1678L1574.4 1681.2L1575.2 1684.4L1576 1687.6L1576.7 1690.8L1577.5 1694L1578.2 1697.2L1579 1700.4L1579.8 1703.6L1580.5 1706.8L1581.3 1710L1582 1713.1L1582.8 1716.3L1583.6 1719.4L1584.3 1722.3L1585.1 1725L1585.8 1727.5L1586.6 1729.9L1587.4 1732.2L1588.1 1734.3L1588.9 1736.2L1589.6 1738L1590.4 1739.6L1591.2 1741.1L1591.9 1742.5L1592.7 1744L1593.4 1745.5L1594.2 1746.9L1595 1748.5L1595.7 1750.1L1596.5 1751.8L1597.2 1753.6L1598 1755.4L1598.8 1757.4L1599.5 1759.4L1600.3 1761.5L1601 1763.7L1601.8 1765.9L1602.6 1768.3L1603.3 1770.6L1604.1 1772.9L1604.8 1775.3L1605.6 1777.6L1606.4 1780L1607.1 1782.3L1607.9 1784.6L1608.6 1787L1609.4 1789.3L1610.2 1791.7L1610.9 1794L1611.7 1796.3L1612.4 1798.7L1613.2 1801L1614 1803.3L1614.7 1805.7L1615.5 1808L1616.2 1810.4L1617 1812.7M1617 1556.9L1617.8 1554.7L1618.5 1552.5L1619.3 1550.3L1620 1548.1L1620.8 1545.9L1621.6 1543.8L1622.3 1541.6L1623.1 1539.4L1623.8 1537.2L1624.6 1535L1625.4 1532.8L1626.1 1530.6L1626.9 1528.4L1627.6 1526.2L1628.4 1524L1629.2 1522L1629.9 1520.1L1630.7 1518.3L1631.4 1516.7L1632.2 1515.2L1633 1513.9L1633.7 1512.7L1634.5 1511.6L1635.2 1510.7L1636 1509.9L1636.8 1509.3L1637.5 1508.7L1638.3 1508L1639 1507.4L1639.8 1506.8L1640.6 1506.2L1641.3 1505.5L1642.1 1504.9L1642.8 1504.3L1643.6 1503.7L1644.4 1503L1645.1 1502.4L1645.9 1501.8L1646.6 1501.2L1647.4 1500.7L1648.2 1500.6L1648.9 1500.9L1649.7 1501.6L1650.4 1502.6L1651.2 1504L1652 1505.8L1652.7 1508L1653.5 1510.5L1654.2 1513.4L1655 1516.6L1655.8 1520.1L1656.5 1523.5L1657.3 1526.9L1658 1530.4L1658.8 1533.8L1659.6 1537.2L1660.3 1540.7L1661.1 1544.1L1661.8 1547.6L1662.6 1551L1663.4 1554.4L1664.1 1557.9L1664.9 1561.3L1665.6 1564.8L1666.4 1568.2L1667.2 1571.6L1667.9 1575.1L1668.7 1578.5L1669.4 1581.9L1670.2 1585.4L1671 1588.8L1671.7 1592.3L1672.5 1595.7L1673.2 1599.1L1674 1602.6L1674.8 1606.1L1675.5 1609.8L1676.3 1613.7L1677 1617.6L1677.8 1621.7L1678.6 1626L1679.3 1630.3L1680.1 1634.8L1680.8 1639.5L1681.6 1644.2L1682.4 1649.1L1683.1 1654L1683.9 1658.9L1684.6 1663.8L1685.4 1668.7L1686.2 1673.6L1686.9 1678.5L1687.7 1683.4L1688.4 1688.3L1689.2 1693.2L1690 1697.9L1690.7 1702.4L1691.5 1706.7L1692.2 1710.7L1693 1714.6L1693.8 1718.2L1694.5 1721.7L1695.3 1724.9L1696 1727.9L1696.8 1730.8L1697.6 1733.4L1698.3 1736L1699.1 1738.6L1699.8 1741.2L1700.6 1743.8L1701.4 1746.4L1702.1 1749.1L1702.9 1751.7L1703.6 1754.3L1704.4 1756.9L1705.2 1759.5L1705.9 1762.1L1706.7 1764.7L1707.4 1767.3L1708.2 1770L1709 1772.6L1709.7 1775.2L1710.5 1777.8L1711.2 1780.4L1712 1783L1712.8 1785.6L1713.5 1788.3L1714.3 1790.9L1715 1792.9L1715.8 1794.5L1716.6 1795.5L1717.3 1796L1718.1 1796L1718.8 1795.5L1719.6 1794.4L1720.4 1792.8L1721.1 1790.6L1721.9 1788L1722.6 1784.8L1723.4 1781.6L1724.2 1778.4L1724.9 1775.2L1725.7 1772L1726.4 1768.8L1727.2 1765.6L1728 1762.4L1728.7 1759.2L1729.5 1756L1730.2 1752.8L1731 1749.6L1731.8 1746.4L1732.5 1743.2L1733.3 1740L1734 1736.9L1734.8 1733.7L1735.6 1730.6L1736.3 1727.7L1737.1 1725L1737.8 1722.5L1738.6 1720.1L1739.4 1717.8L1740.1 1715.7L1740.9 1713.8L1741.6 1712L1742.4 1710.4L1743.2 1708.9L1743.9 1707.5L1744.7 1706L1745.4 1704.5L1746.2 1703.1L1747 1701.5L1747.7 1699.9L1748.5 1698.2L1749.2 1696.4L1750 1694.6L1750.8 1692.6L1751.5 1690.6L1752.3 1688.5L1753 1686.3L1753.8 1684.1L1754.6 1681.7L1755.3 1679.4L1756.1 1677.1L1756.8 1674.7L1757.6 1672.4L1758.4 1670L1759.1 1667.7L1759.9 1665.4L1760.6 1663L1761.4 1660.7L1762.2 1658.3L1762.9 1656L1763.7 1653.7L1764.4 1651.3L1765.2 1649L1766 1646.7L1766.7 1644.3L1767.5 1642L1768.2 1639.6L1769 1637.3M1769 1893.1L1769.8 1895.3L1770.5 1897.5L1771.3 1899.7L1772 1901.9L1772.8 1904.1L1773.6 1906.2L1774.3 1908.4L1775.1 1910.6L1775.8 1912.8L1776.6 1915L1777.4 1917.2L1778.1 1919.4L1778.9 1921.6L1779.6 1923.8L1780.4 1926L1781.2 1928L1781.9 1929.9L1782.7 1931.7L1783.4 1933.3L1784.2 1934.8L1785 1936.1L1785.7 1937.3L1786.5 1938.4L1787.2 1939.3L1788 1940.1L1788.8 1940.7L1789.5 1941.3L1790.3 1942L1791 1942.6L1791.8 1943.2L1792.6 1943.8L1793.3 1944.5L1794.1 1945.1L1794.8 1945.7L1795.6 1946.3L1796.4 1947L1797.1 1947.6L1797.9 1948.2L1798.6 1948.8L1799.4 1949.3L1800.2 1949.4L1800.9 1949.1L1801.7 1948.4L1802.4 1947.4L1803.2 1946L1804 1944.2L1804.7 1942L1805.5 1939.5L1806.2 1936.6L1807 1933.4L1807.8 1929.9L1808.5 1926.5L1809.3 1923.1L1810 1919.6L1810.8 1916.2L1811.6 1912.8L1812.3 1909.3L1813.1 1905.9L1813.8 1902.4L1814.6 1899L1815.4 1895.6L1816.1 1892.1L1816.9 1888.7L1817.6 1885.2L1818.4 1881.8L1819.2 1878.4L1819.9 1874.9L1820.7 1871.5L1821.4 1868.1L1822.2 1864.6L1823 1861.2L1823.7 1857.7L1824.5 1854.3L1825.2 1850.9L1826 1847.4L1826.8 1843.9L1827.5 1840.2L1828.3 1836.3L1829 1832.4L1829.8 1828.3L1830.6 1824L1831.3 1819.7L1832.1 1815.2L1832.8 1810.5L1833.6 1805.8L1834.4 1800.9L1835.1 1796L1835.9 1791.1L1836.6 1786.2L1837.4 1781.3L1838.2 1776.4L1838.9 1771.5L1839.7 1766.6L1840.4 1761.7L1841.2 1756.8L1842 1752.1L1842.7 1747.6L1843.5 1743.3L1844.2 1739.3L1845 1735.4L1845.8 1731.8L1846.5 1728.3L1847.3 1725.1L1848 1722.1L1848.8 1719.2L1849.6 1716.6L1850.3 1714L1851.1 1711.4L1851.8 1708.8L1852.6 1706.2L1853.4 1703.6L1854.1 1700.9L1854.9 1698.3L1855.6 1695.7L1856.4 1693.1L1857.2 1690.5L1857.9 1687.9L1858.7 1685.3L1859.4 1682.7L1860.2 1680L1861 1677.4L1861.7 1674.8L1862.5 1672.2L1863.2 1669.6L1864 1667L1864.8 1664.4L1865.5 1661.7L1866.3 1659.1L1867 1657.1L1867.8 1655.5L1868.6 1654.5L1869.3 1654L1870.1 1654L1870.8 1654.5L1871.6 1655.6L1872.4 1657.2L1873.1 1659.4L1873.9 1662L1874.6 1665.2L1875.4 1668.4L1876.2 1671.6L1876.9 1674.8L1877.7 1678L1878.4 1681.2L1879.2 1684.4L1880 1687.6L1880.7 1690.8L1881.5 1694L1882.2 1697.2L1883 1700.4L1883.8 1703.6L1884.5 1706.8L1885.3 1710L1886 1713.1L1886.8 1716.3L1887.6 1719.4L1888.3 1722.3L1889.1 1725L1889.8 1727.5L1890.6 1729.9L1891.4 1732.2L1892.1 1734.3L1892.9 1736.2L1893.6 1738L1894.4 1739.6L1895.2 1741.1L1895.9 1742.5L1896.7 1744L1897.4 1745.5L1898.2 1746.9L1899 1748.5L1899.7 1750.1L1900.5 1751.8L1901.2 1753.6L1902 1755.4L1902.8 1757.4L1903.5 1759.4L1904.3 1761.5L1905 1763.7L1905.8 1765.9L1906.6 1768.3L1907.3 1770.6L1908.1 1772.9L1908.8 1775.3L1909.6 1777.6L1910.4 1780L1911.1 1782.3L1911.9 1784.6L1912.6 1787L1913.4 1789.3L1914.2 1791.7L1914.9 1794L1915.7 1796.3L1916.4 1798.7L1917.2 1801L1918 1803.3L1918.7 1805.7L1919.5 1808L1920.2 1810.4L1921 1812.7" fill="none" stroke="#0000FF" stroke-width="17.5" stroke-linejoin="bevel" stroke-dasharray="31 2.5"/>
<path d="M401 1812.7L401 1556.9M553 1637.3L553 1893.1M705 1812.7L705 1556.9M857 1637.3L857 1893.1M1009 1812.7L1009 1556.9M1161 1637.3L1161 1893.1M1313 1812.7L1313 1556.9M1465 1637.3L1465 1893.1M1617 1812.7L1617 1556.9M1769 1637.3L1769 1893.1M1921 1812.7L1921 1634.4" fill="none" stroke="#0000FF" stroke-width="17.5" stroke-linejoin="bevel" stroke-dasharray="50 11 26 11" stroke-dashoffset="24.5"/>
</g>
<rect x="581.1" y="1338.9" width="249.9" height="7" fill="#D95319"/>
<rect x="1248" y="1334" width="51.6" height="17" fill="#0000FF"/>
<rect x="1309.8" y="1334" width="24.7" height="17" fill="#0000FF"/>
<rect x="1346.9" y="1334" width="50.5" height="17" fill="#0000FF"/>
<rect x="1409.8" y="1334" width="25.2" height="17" fill="#0000FF"/>
<rect x="1447" y="1334" width="51.5" height="17" fill="#0000FF"/>
<text class="tk" text-anchor="end" x="361" y="1461.7" style="font-size:82px">0.02</text>
<text class="tk" text-anchor="end" x="364.5" y="1754" style="font-size:82px">0</text>
<text class="tk" text-anchor="end" x="365.5" y="2046.3" style="font-size:82px"><tspan textLength="53" lengthAdjust="spacingAndGlyphs">−</tspan><tspan dx="-3">0.02</tspan></text>
<text class="tk" text-anchor="middle" x="399" y="2276" style="font-size:82px">0</text>
<text class="tk" text-anchor="middle" x="779" y="2276" style="font-size:82px">5</text>
<text class="tk" text-anchor="middle" x="1159" y="2276" style="font-size:82px">10</text>
<text class="tk" text-anchor="middle" x="1539" y="2276" style="font-size:82px">15</text>
<text class="tk" text-anchor="middle" x="1919" y="2276" style="font-size:82px">20</text>
<text class="tk" text-anchor="middle" x="1161" y="2383" style="font-size:83px">Time(s)</text>
<text class="tk" text-anchor="middle" transform="translate(150 1728.5) rotate(-90)" style="font-size:83px"><tspan font-style="italic">X</tspan>-axis tracking error(mm)</text>
<text class="cap" text-anchor="middle" x="1039" y="2512">(<tspan font-weight="bold">c</tspan>)</text>
</g>
<g id="plot3">
<text class="lg" x="887" y="2642" style="font-size:74px">Experiment</text>
<text class="lg" x="1553" y="2642" style="font-size:74px">Simulation</text>
<g fill="#262626" fill-opacity="0.47">
<rect x="388.5" y="2739.7" width="37.3" height="13"/><rect x="475.6" y="2739.7" width="50" height="13"/><rect x="575.4" y="2739.7" width="50" height="13"/><rect x="675.2" y="2739.7" width="50" height="13"/><rect x="775" y="2739.7" width="50" height="13"/><rect x="874.8" y="2739.7" width="50" height="13"/><rect x="974.6" y="2739.7" width="50" height="13"/><rect x="1074.4" y="2739.7" width="50" height="13"/><rect x="1174.2" y="2739.7" width="50" height="13"/><rect x="1274" y="2739.7" width="50" height="13"/><rect x="1373.8" y="2739.7" width="50" height="13"/><rect x="1473.6" y="2739.7" width="50" height="13"/><rect x="1573.4" y="2739.7" width="50" height="13"/><rect x="1673.2" y="2739.7" width="50" height="13"/><rect x="1773" y="2739.7" width="50" height="13"/><rect x="1872.8" y="2739.7" width="48.4" height="13"/>
<rect x="388.5" y="2911.4" width="37.3" height="13"/><rect x="475.6" y="2911.4" width="50" height="13"/><rect x="575.4" y="2911.4" width="50" height="13"/><rect x="675.2" y="2911.4" width="50" height="13"/><rect x="775" y="2911.4" width="50" height="13"/><rect x="874.8" y="2911.4" width="50" height="13"/><rect x="974.6" y="2911.4" width="50" height="13"/><rect x="1074.4" y="2911.4" width="50" height="13"/><rect x="1174.2" y="2911.4" width="50" height="13"/><rect x="1274" y="2911.4" width="50" height="13"/><rect x="1373.8" y="2911.4" width="50" height="13"/><rect x="1473.6" y="2911.4" width="50" height="13"/><rect x="1573.4" y="2911.4" width="50" height="13"/><rect x="1673.2" y="2911.4" width="50" height="13"/><rect x="1773" y="2911.4" width="50" height="13"/><rect x="1872.8" y="2911.4" width="48.4" height="13"/>
<rect x="388.5" y="3083.1" width="37.3" height="13"/><rect x="475.6" y="3083.1" width="50" height="13"/><rect x="575.4" y="3083.1" width="50" height="13"/><rect x="675.2" y="3083.1" width="50" height="13"/><rect x="775" y="3083.1" width="50" height="13"/><rect x="874.8" y="3083.1" width="50" height="13"/><rect x="974.6" y="3083.1" width="50" height="13"/><rect x="1074.4" y="3083.1" width="50" height="13"/><rect x="1174.2" y="3083.1" width="50" height="13"/><rect x="1274" y="3083.1" width="50" height="13"/><rect x="1373.8" y="3083.1" width="50" height="13"/><rect x="1473.6" y="3083.1" width="50" height="13"/><rect x="1573.4" y="3083.1" width="50" height="13"/><rect x="1673.2" y="3083.1" width="50" height="13"/><rect x="1773" y="3083.1" width="50" height="13"/><rect x="1872.8" y="3083.1" width="48.4" height="13"/>
<rect x="388.5" y="3254.8" width="37.3" height="13"/><rect x="475.6" y="3254.8" width="50" height="13"/><rect x="575.4" y="3254.8" width="50" height="13"/><rect x="675.2" y="3254.8" width="50" height="13"/><rect x="775" y="3254.8" width="50" height="13"/><rect x="874.8" y="3254.8" width="50" height="13"/><rect x="974.6" y="3254.8" width="50" height="13"/><rect x="1074.4" y="3254.8" width="50" height="13"/><rect x="1174.2" y="3254.8" width="50" height="13"/><rect x="1274" y="3254.8" width="50" height="13"/><rect x="1373.8" y="3254.8" width="50" height="13"/><rect x="1473.6" y="3254.8" width="50" height="13"/><rect x="1573.4" y="3254.8" width="50" height="13"/><rect x="1673.2" y="3254.8" width="50" height="13"/><rect x="1773" y="3254.8" width="50" height="13"/><rect x="1872.8" y="3254.8" width="48.4" height="13"/>
<rect x="765.2" y="2586.3" width="13" height="50"/><rect x="765.2" y="2686" width="13" height="50"/><rect x="765.2" y="2785.7" width="13" height="50"/><rect x="765.2" y="2885.4" width="13" height="50"/><rect x="765.2" y="2985.1" width="13" height="50"/><rect x="765.2" y="3084.8" width="13" height="50"/><rect x="765.2" y="3184.5" width="13" height="50"/><rect x="765.2" y="3284.2" width="13" height="50"/><rect x="765.2" y="3383.9" width="13" height="49.1"/>
<rect x="1148.3" y="2586.3" width="13" height="50"/><rect x="1148.3" y="2686" width="13" height="50"/><rect x="1148.3" y="2785.7" width="13" height="50"/><rect x="1148.3" y="2885.4" width="13" height="50"/><rect x="1148.3" y="2985.1" width="13" height="50"/><rect x="1148.3" y="3084.8" width="13" height="50"/><rect x="1148.3" y="3184.5" width="13" height="50"/><rect x="1148.3" y="3284.2" width="13" height="50"/><rect x="1148.3" y="3383.9" width="13" height="49.1"/>
<rect x="1531.5" y="2586.3" width="13" height="50"/><rect x="1531.5" y="2686" width="13" height="50"/><rect x="1531.5" y="2785.7" width="13" height="50"/><rect x="1531.5" y="2885.4" width="13" height="50"/><rect x="1531.5" y="2985.1" width="13" height="50"/><rect x="1531.5" y="3084.8" width="13" height="50"/><rect x="1531.5" y="3184.5" width="13" height="50"/><rect x="1531.5" y="3284.2" width="13" height="50"/><rect x="1531.5" y="3383.9" width="13" height="49.1"/>
</g>
<rect x="388.5" y="2574.5" width="1532.7" height="858.5" fill="none" stroke="#262626" stroke-width="13"/>
<rect x="381" y="3431" width="7.6" height="10" fill="#fff"/>
<path d="M388.5 2746.2h21M1921.2 2746.2h-21M388.5 2917.9h21M1921.2 2917.9h-21M388.5 3089.6h21M1921.2 3089.6h-21M388.5 3261.3h21M1921.2 3261.3h-21M771.7 2574.5v21M771.7 3433v-21M1154.8 2574.5v21M1154.8 3433v-21M1538 2574.5v21M1538 3433v-21" stroke="#262626" stroke-width="13" fill="none"/>
<clipPath id="clip3"><rect x="388.5" y="2574.5" width="1532.7" height="858.5"/></clipPath>
<g clip-path="url(#clip3)">
<path d="M388.5 3227L390.8 3046.9L393.1 2927.1L395.4 3014.5L397.7 2940.2L400 3011.8L402.3 2933.1L404.6 3006.7L406.9 2928.3L409.2 3005.9L411.5 2934.7L413.8 3013.3L416.1 2934L418.4 3014.6L420.7 2917.2L423 3021.5L425.3 2899.9L427.6 3015.8L429.9 2929L432.2 3009.2L434.5 2941.9L436.8 3021.8L439.1 2916.6L441.4 3045.9L443.7 2925.4L446 3014.6L448.3 2933.2L450.6 3018.1L452.9 2907L455.2 3016.9L457.5 2910.6L459.8 3045L462.1 2886.3L464.4 3004.4L466.7 2888.8L469 2992.2L471.3 2871.6L473.6 3025.3L475.9 2794.6L478.2 3030.8L480.5 2824L482.8 2983.9L485.1 2791.4L487.4 2989.5L489.7 2839.7L492 3029.4L494.3 2806.4L496.6 2966.8L498.9 2790.1L501.2 2976.6L503.5 2808L505.8 2969L508.1 2835.9L510.3 3030.1L512.6 2794L514.9 2976.1L517.2 2850L519.5 2982.8L521.8 2855.1L524.1 2979.8L526.4 2874.3L528.7 2998.5L531 2696.4L533.3 2996.1L535.6 2866.9L537.9 3040.6L540.2 3027.6L542.5 3207.8L544.8 3129.5L547.1 3216L549.4 3136.3L551.7 3222.1L554 3111.8L556.3 3229.1L558.6 3147L560.9 3212L563.2 3093.2L565.5 3228.3L567.8 3120.3L570.1 3243.3L572.4 3120.2L574.7 3236.8L577 3122.1L579.3 3220.7L581.6 3134.2L583.9 3218.4L586.2 3114.3L588.5 3215.8L590.8 3139.7L593.1 3243.8L595.4 3140.7L597.7 3228.4L600 3128.9L602.3 3218.3L604.6 3142L606.9 3216L609.2 3144.4L611.5 3211.8L613.8 3147.6L616.1 3216.5L618.4 3118.9L620.7 3234.2L623 3151.8L625.3 3263.6L627.6 3173.9L629.9 3291.7L632.2 3129.5L634.5 3284.8L636.8 3157.5L639.1 3291L641.4 3172L643.7 3326.3L646 3135.5L648.3 3328.6L650.6 3186.4L652.9 3325.5L655.2 3186.1L657.5 3310.6L659.8 3139.2L662.1 3325.2L664.4 3172.7L666.7 3288.5L669 3171.5L671.3 3307L673.6 3163.8L675.9 3277.6L678.2 3143.2L680.5 3235.6L682.8 3161.4L685.1 3225.5L687.4 3153.6L689.7 3223.8L692 3101.6L694.3 3072.7L696.6 2915.6L698.9 3011L701.2 2903.9L703.5 3005.4L705.8 2938.8L708.1 3013.3L710.4 2934.4L712.7 3016.1L715 2935.8L717.3 3007.4L719.6 2924.7L721.9 3038.3L724.2 2939.2L726.5 3008.9L728.8 2935.6L731.1 3038.2L733.4 2932L735.7 3021.1L738 2939.6L740.3 3011.4L742.6 2929.5L744.9 3020.2L747.2 2923.4L749.5 3027.3L751.7 2932L754 3020.1L756.3 2906.1L758.6 3014.7L760.9 2938.7L763.2 3018L765.5 2914.8L767.8 3003.4L770.1 2866.9L772.4 2980.6L774.7 2878.5L777 3058.8L779.3 2868.3L781.6 3032.3L783.9 2822.4L786.2 3007.7L788.5 2807.7L790.8 2972.5L793.1 2812L795.4 2987.8L797.7 2837.9L800 2988.7L802.3 2838.5L804.6 2968.8L806.9 2842L809.2 2992.1L811.5 2801.3L813.8 2995.3L816.1 2800.8L818.4 3020.4L820.7 2839.1L823 3040L825.3 2852.2L827.6 2991.7L829.9 2849.6L832.2 2994.9L834.5 2833.6L836.8 2994.2L839.1 2718.7L841.4 2990.4L843.7 2876L846 3086.4L848.3 3132.2L850.6 3235.7L852.9 3146.1L855.2 3214.5L857.5 3132.1L859.8 3216.4L862.1 3107.9L864.4 3212.2L866.7 3141.9L869 3218L871.3 3108.7L873.6 3220.7L875.9 3134.1L878.2 3247.7L880.5 3112.7L882.8 3208.2L885.1 3135L887.4 3213.2L889.7 3146L892 3213L894.3 3123.4L896.6 3229.3L898.9 3143.5L901.2 3217.9L903.5 3140.2L905.8 3230.1L908.1 3125.5L910.4 3214.5L912.7 3145.9L915 3234.4L917.3 3115.6L919.6 3225.2L921.9 3153.4L924.2 3246L926.5 3117.5L928.8 3260.4L931.1 3151.3L933.4 3261.8L935.7 3173.9L938 3307.1L940.3 3128.3L942.6 3276.5L944.9 3181L947.2 3304.9L949.5 3134.2L951.8 3299.9L954.1 3181.3L956.4 3338.8L958.7 3140.7L961 3304.1L963.3 3125.5L965.6 3304.6L967.9 3187.5L970.2 3348.4L972.5 3182.8L974.8 3310.7L977.1 3181.5L979.4 3254.5L981.7 3177.9L984 3254.5L986.3 3124.9L988.6 3229.1L990.9 3159L993.2 3214.9L995.4 3128.8L997.7 3205.4L1000 3012.4L1002.3 3048.7L1004.6 2925.7L1006.9 3012.4L1009.2 2927L1011.5 3018.6L1013.8 2905.2L1016.1 3013L1018.4 2930.6L1020.7 3014.2L1023 2903.9L1025.3 3013.1L1027.6 2924.8L1029.9 3020.6L1032.2 2941.5L1034.5 3016.1L1036.8 2911.4L1039.1 3027.1L1041.4 2939.4L1043.7 3018.5L1046 2924.2L1048.3 3013.4L1050.6 2934.8L1052.9 3013.2L1055.2 2926.6L1057.5 3041.8L1059.8 2940.7L1062.1 3007.7L1064.4 2925.8L1066.7 3037.6L1069 2896.8L1071.3 3016.2L1073.6 2911.4L1075.9 3028.3L1078.2 2885.5L1080.5 3018.8L1082.8 2879.6L1085.1 3000L1087.4 2810.9L1089.7 2987.8L1092 2827.8L1094.3 3030.6L1096.6 2850.6L1098.9 2975.6L1101.2 2789L1103.5 3020.7L1105.8 2777.8L1108.1 2993.9L1110.4 2810.8L1112.7 3015.9L1115 2807.9L1117.3 2994.3L1119.6 2797.4L1121.9 2987.8L1124.2 2798.1L1126.5 2980.5L1128.8 2767.6L1131.1 3040.7L1133.4 2829.9L1135.7 2977.5L1138 2821L1140.3 2993.8L1142.6 2882.8L1144.9 3002.7L1147.2 2849.9L1149.5 3036.2L1151.8 2939.6L1154.1 3173.3L1156.4 3120.7L1158.7 3244.6L1161 3141.4L1163.3 3209.7L1165.6 3134.5L1167.9 3250.5L1170.2 3110.5L1172.5 3217.6L1174.8 3143.2L1177.1 3236.6L1179.4 3123.6L1181.7 3236.8L1184 3138.9L1186.3 3247.2L1188.6 3144.7L1190.9 3212.1L1193.2 3136.7L1195.5 3222.6L1197.8 3102.9L1200.1 3207.9L1202.4 3118.2L1204.7 3215.1L1207 3122.9L1209.3 3244.7L1211.6 3127.6L1213.9 3208.4L1216.2 3137L1218.5 3223.1L1220.8 3116.6L1223.1 3215.2L1225.4 3130.6L1227.7 3222.3L1230 3154.7L1232.3 3229.1L1234.6 3131.4L1236.8 3243.8L1239.1 3136.4L1241.4 3300.6L1243.7 3159.3L1246 3265L1248.3 3132L1250.6 3317.7L1252.9 3186.3L1255.2 3291.2L1257.5 3195.2L1259.8 3322.7L1262.1 3198.2L1264.4 3288.8L1266.7 3166.9L1269 3307.2L1271.3 3150.3L1273.6 3291.5L1275.9 3176.6L1278.2 3309.8L1280.5 3160.1L1282.8 3271.9L1285.1 3172L1287.4 3293.1L1289.7 3165.6L1292 3235.4L1294.3 3145L1296.6 3230.6L1298.9 3149.2L1301.2 3216.9L1303.5 3143L1305.8 3152.2L1308.1 2891.3L1310.4 3044.9L1312.7 2935L1315 3008.7L1317.3 2926.5L1319.6 3006.5L1321.9 2938.1L1324.2 3017L1326.5 2934.6L1328.8 3010.1L1331.1 2896L1333.4 3033.1L1335.7 2907.8L1338 3006.6L1340.3 2932.8L1342.6 3040.9L1344.9 2935.5L1347.2 3014.7L1349.5 2902.5L1351.8 3018.9L1354.1 2898L1356.4 3015.7L1358.7 2940.9L1361 3005L1363.3 2940.9L1365.6 3048.4L1367.9 2927.4L1370.2 3010.6L1372.5 2897.1L1374.8 3012.1L1377.1 2938.1L1379.4 2997.5L1381.7 2912.1L1384 3017.8L1386.3 2885.5L1388.6 2986.6L1390.9 2872.5L1393.2 3031.1L1395.5 2844.3L1397.8 2976.9L1400.1 2834.7L1402.4 2975.3L1404.7 2773.3L1407 2982.1L1409.3 2800.3L1411.6 3014.2L1413.9 2824L1416.2 2965.1L1418.5 2843.7L1420.8 2965.2L1423.1 2845.1L1425.4 2990L1427.7 2797.3L1430 3016.9L1432.3 2799.2L1434.6 3023.3L1436.9 2804.8L1439.2 3043.8L1441.5 2808.8L1443.8 3014.9L1446.1 2874.1L1448.4 2650L1450.7 2884.4L1453 2984.2L1455.3 2878.3L1457.6 3002.7L1459.9 3033.1L1462.2 3205.5L1464.5 3141.6L1466.8 3236.3L1469.1 3107.6L1471.4 3208.6L1473.7 3109.1L1476 3210L1478.2 3097.4L1480.5 3248.2L1482.8 3118.1L1485.1 3221.4L1487.4 3107.4L1489.7 3210.8L1492 3123.2L1494.3 3208.2L1496.6 3117L1498.9 3236.6L1501.2 3135.7L1503.5 3231.1L1505.8 3124L1508.1 3213L1510.4 3127.4L1512.7 3223.2L1515 3145.8L1517.3 3215.8L1519.6 3149.7L1521.9 3229.1L1524.2 3141.1L1526.5 3208.5L1528.8 3143.6L1531.1 3210.5L1533.4 3144.7L1535.7 3227.2L1538 3143L1540.3 3231.5L1542.6 3138.1L1544.9 3246.7L1547.2 3159.3L1549.5 3290.2L1551.8 3179.1L1554.1 3274.7L1556.4 3143.9L1558.7 3338.5L1561 3156.7L1563.3 3313.2L1565.6 3171.6L1567.9 3289.3L1570.2 3133.6L1572.5 3310.1L1574.8 3165.2L1577.1 3295.9L1579.4 3140.2L1581.7 3303.8L1584 3192L1586.3 3281L1588.6 3132.9L1590.9 3287.8L1593.2 3169.7L1595.5 3247.6L1597.8 3158.1L1600.1 3279.4L1602.4 3162.7L1604.7 3226.4L1607 3154.4L1609.3 3204L1611.6 3095.4L1613.9 3046L1616.2 2939.5L1618.5 3030.9L1620.8 2941.9L1623.1 3042L1625.4 2940.5L1627.7 3029.4L1630 2924L1632.3 3013.3L1634.6 2924.7L1636.9 3063L1639.2 2928.3L1641.5 3004.3L1643.8 2930L1646.1 3029.5L1648.4 2941.7L1650.7 3042.8L1653 2936.2L1655.3 3044.8L1657.6 2904.2L1659.9 3018.3L1662.2 2930.1L1664.5 3021.8L1666.8 2933.1L1669.1 3030.7L1671.4 2926.7L1673.7 3014.6L1676 2909.7L1678.3 3011.7L1680.6 2930L1682.9 3007.4L1685.2 2924.7L1687.5 3031.1L1689.8 2859.1L1692.1 3034.6L1694.4 2886.6L1696.7 2995.7L1699 2850L1701.3 3016.5L1703.6 2838.8L1705.9 2982.7L1708.2 2850L1710.5 2991.4L1712.8 2800.5L1715.1 2985.3L1717.4 2782L1719.6 2987.5L1721.9 2850.5L1724.2 3003.2L1726.5 2833.4L1728.8 3036.2L1731.1 2836.5L1733.4 2971.8L1735.7 2842.7L1738 2968.1L1740.3 2854.4L1742.6 2977.4L1744.9 2864.2L1747.2 2984.3L1749.5 2830.2L1751.8 2975.9L1754.1 2817.3L1756.4 3061.2L1758.7 2822.1L1761 2993.3L1763.3 2888.6L1765.6 3109.2L1767.9 3138.8L1770.2 3240.5L1772.5 3132.1L1774.8 3213.2L1777.1 3120.5L1779.4 3219.4L1781.7 3132.9L1784 3211.2L1786.3 3107.6L1788.6 3208.4L1790.9 3122.3L1793.2 3239.2L1795.5 3141.1L1797.8 3234L1800.1 3141.5L1802.4 3241.9L1804.7 3150L1807 3213.5L1809.3 3143.4L1811.6 3215.7L1813.9 3149L1816.2 3215.1L1818.5 3118.7L1820.8 3234.1L1823.1 3145.3L1825.4 3218.1L1827.7 3147.6L1830 3219L1832.3 3120.1L1834.6 3207.8L1836.9 3150.1L1839.2 3215.2L1841.5 3119L1843.8 3224.7L1846.1 3151.6L1848.4 3276L1850.7 3128L1853 3246.6L1855.3 3149.8L1857.6 3292.4L1859.9 3177L1862.2 3293.4L1864.5 3130.9L1866.8 3347.2L1869.1 3187.1L1871.4 3305.8L1873.7 3173L1876 3300.9L1878.3 3195.9L1880.6 3324L1882.9 3150.3L1885.2 3307.7L1887.5 3148L1889.8 3280.3L1892.1 3189.5L1894.4 3283.4L1896.7 3146.5L1899 3255.3L1901.3 3158.2L1903.6 3283.2L1905.9 3164.8L1908.2 3225.9L1910.5 3136.2L1912.8 3218.7L1915.1 3121.5L1917.4 3201.2" fill="none" stroke="#D95319" stroke-width="7.5" stroke-linejoin="round" stroke-linecap="round"/>
<path d="M388.5 3127.4L388.5 3108.5L389.3 3105.1L390 3101.6L390.8 3098.2L391.6 3094.8L392.3 3091.3L393.1 3087.9L393.9 3084.4L394.6 3081L395.4 3077.6L396.2 3074.1L396.9 3070.7L397.7 3067.3L398.5 3063.8L399.2 3060.4L400 3057L400.8 3053.5L401.5 3050.1L402.3 3046.7L403.1 3043.2L403.8 3039.8L404.6 3036.4L405.4 3032.9L406.1 3029.5L406.9 3026.1L407.7 3023.2L408.4 3021L409.2 3019.4L410 3018.4L410.7 3018.1L411.5 3018.3L412.3 3019.1L413 3020.6L413.8 3022.7L414.6 3025.3L415.3 3028.6L416.1 3031.9L416.9 3035.2L417.6 3038.5L418.4 3041.8L419.2 3045.1L419.9 3048.4L420.7 3051.7L421.5 3054.9L422.2 3058.2L423 3061.5L423.8 3064.8L424.5 3068.1L425.3 3071.4L426.1 3074.7L426.8 3078L427.6 3081.3L428.4 3084.5L429.1 3087.8L429.9 3091.1L430.6 3094.4L431.4 3097.7L432.2 3101L432.9 3104.3L433.7 3107.6L434.5 3110.9L435.2 3114.1L436 3117.4L436.8 3120.7L437.5 3124L438.3 3127.3L439.1 3130.6L439.8 3133.9L440.6 3137.2L441.4 3140.5L442.1 3143.7L442.9 3147L443.7 3150.3L444.4 3153.6L445.2 3156.9L446 3160.2L446.7 3163.5L447.5 3166.8L448.3 3170.1L449 3173.3L449.8 3176.6L450.6 3179.9L451.3 3183.2L452.1 3186.5L452.9 3189.8L453.6 3193.1L454.4 3196.4L455.2 3199.7L455.9 3202.9L456.7 3206.2L457.5 3209.5L458.2 3212.8L459 3216.1L459.8 3219.4L460.5 3222.7L461.3 3226L462.1 3229.3L462.8 3232.5L463.6 3235.8L464.4 3239.1L465.1 3242.4M465.9 2770.2L466.7 2809.3L467.4 2848.4L468.2 2887.4L469 2926.5M469 2926.5L469.7 2922.4L470.5 2918.2L471.3 2914.1L472 2910L472.8 2905.8L473.6 2901.7L474.3 2897.6L475.1 2893.4L475.9 2889.3L476.6 2885.2L477.4 2881L478.2 2876.9L478.9 2872.8L479.7 2868.6L480.5 2864.5L481.2 2860.4L482 2856.2L482.8 2852.1L483.5 2848L484.3 2843.9L485.1 2839.7L485.8 2835.6L486.6 2831.5L487.4 2827.3L488.1 2823.2L488.9 2819.1L489.7 2814.9L490.4 2811.7L491.2 2809.3L492 2807.7L492.7 2807.1L493.5 2807.3L494.3 2808.3L495 2810.3L495.8 2813.1L496.6 2816.7L497.3 2821.3L498.1 2826.7L498.9 2832.1L499.6 2837.4L500.4 2842.8L501.2 2848.2L501.9 2853.6L502.7 2859L503.5 2864.4L504.2 2869.8L505 2875.2L505.8 2880.6L506.5 2886L507.3 2891.4L508.1 2896.8L508.8 2902.2L509.6 2907.6L510.3 2913L511.1 2918.4L511.9 2923.8L512.6 2929.2L513.4 2934.6L514.2 2940L514.9 2945.4L515.7 2950.8L516.5 2956.2L517.2 2961.6L518 2967L518.8 2972.4L519.5 2977.7L520.3 2983.1L521.1 2988.5L521.8 2993.9L522.6 2999.3L523.4 3004.7L524.1 3010.1L524.9 3015.5L525.7 3020.9L526.4 3026.3L527.2 3031.7L528 3037.1L528.7 3042.5L529.5 3047.9L530.3 3053.3L531 3058.7L531.8 3064.1L532.6 3069.5L533.3 3074.9L534.1 3080.3L534.9 3085.7L535.6 3091.1L536.4 3096.5L537.2 3101.9L537.9 3107.3L538.7 3112.4L539.5 3117.2L540.2 3121.7L541 3126L541.8 3129.9L542.5 3133.6L543.3 3137L544.1 3140.1L544.8 3142.9L545.6 3145.4L546.4 3147.6L547.1 3149.8L547.9 3152L548.7 3154.3L549.4 3156.5L550.2 3158.7L551 3161L551.7 3163.2L552.5 3165.4L553.3 3167.6L554 3169.9L554.8 3172.1L555.6 3174.3L556.3 3176.5L557.1 3178.8L557.9 3181L558.6 3183.2L559.4 3184.9L560.2 3186.1L560.9 3186.7L561.7 3186.8L562.5 3186.4L563.2 3185.4L564 3183.9L564.8 3181.9L565.5 3179.3L566.3 3176.2L567.1 3172.6L567.8 3169L568.6 3165.4L569.4 3161.7L570.1 3158.1L570.9 3154.5L571.7 3150.9L572.4 3147.2L573.2 3143.6L574 3140L574.7 3136.4L575.5 3132.8L576.3 3129.1L577 3125.5L577.8 3121.9L578.6 3118.3L579.3 3114.6L580.1 3111L580.9 3107.4L581.6 3103.8L582.4 3100.2L583.2 3096.5L583.9 3092.9L584.7 3089.3L585.5 3085.7L586.2 3082L587 3078.4L587.8 3074.8L588.5 3071.2L589.3 3067.6L590.1 3063.9L590.8 3060.3L591.6 3056.7L592.3 3053.1L593.1 3049.5L593.9 3045.8L594.6 3042.2L595.4 3038.6L596.2 3035L596.9 3031.3L597.7 3027.7L598.5 3024.1L599.2 3020.5L600 3016.9L600.8 3013.2L601.5 3009.6L602.3 3006L603.1 3002.4L603.8 2998.7L604.6 2995.1L605.4 2991.5L606.1 2987.9L606.9 2984.3L607.7 2980.6L608.4 2977L609.2 2973.4L610 2969.8L610.7 2966.1L611.5 2962.5L612.3 2958.9L613 2955.3L613.8 2951.7L614.6 2948L615.3 2944.4L616.1 2940.8L616.9 2937.2L617.6 2933.5L618.4 2929.9M619.2 3415.8L619.9 3357.9L620.7 3299.9L621.5 3242L622.2 3184M622.2 3184L623 3187.2L623.8 3190.3L624.5 3193.4L625.3 3196.5L626.1 3199.6L626.8 3202.8L627.6 3205.9L628.4 3209L629.1 3212.1L629.9 3215.3L630.7 3218.4L631.4 3221.5L632.2 3224.6L633 3227.7L633.7 3230.9L634.5 3234L635.3 3237.1L636 3240.2L636.8 3243.3L637.6 3246.5L638.3 3249.6L639.1 3252.7L639.9 3255.8L640.6 3259L641.4 3262.1L642.2 3265.2L642.9 3268.3L643.7 3271.4L644.5 3274.6L645.2 3277.7L646 3280.8L646.8 3283.9L647.5 3287.1L648.3 3289.9L649.1 3292.1L649.8 3293.7L650.6 3294.8L651.4 3295.2L652.1 3295L652.9 3294.2L653.7 3292.9L654.4 3290.9L655.2 3288.3L656 3285.2L656.7 3281.7L657.5 3278.2L658.3 3274.8L659 3271.3L659.8 3267.8L660.6 3264.4L661.3 3260.9L662.1 3257.5L662.9 3254L663.6 3250.5L664.4 3247.1L665.2 3243.6L665.9 3240.1L666.7 3236.7L667.5 3233.2L668.2 3229.7L669 3226.3L669.8 3222.8L670.5 3219.3L671.3 3215.9L672 3212.4L672.8 3209L673.6 3205.5L674.3 3202L675.1 3198.6L675.9 3195.1L676.6 3191.6L677.4 3188.2L678.2 3184.7L678.9 3181.2L679.7 3177.8L680.5 3174.3L681.2 3170.8L682 3167.4L682.8 3163.9L683.5 3160.5L684.3 3157L685.1 3153.5L685.8 3150.1L686.6 3146.6L687.4 3143.1L688.1 3139.7L688.9 3136.2L689.7 3132.7L690.4 3129.3L691.2 3125.8L692 3122.3L692.7 3118.9L693.5 3115.4L694.3 3112L695 3108.5L695.8 3105.1L696.6 3101.6L697.3 3098.2L698.1 3094.8L698.9 3091.3L699.6 3087.9L700.4 3084.4L701.2 3081L701.9 3077.6L702.7 3074.1L703.5 3070.7L704.2 3067.3L705 3063.8L705.8 3060.4L706.5 3057L707.3 3053.5L708.1 3050.1L708.8 3046.7L709.6 3043.2L710.4 3039.8L711.1 3036.4L711.9 3032.9L712.7 3029.5L713.4 3026.1L714.2 3023.2L715 3021L715.7 3019.4L716.5 3018.4L717.3 3018.1L718 3018.3L718.8 3019.1L719.6 3020.6L720.3 3022.7L721.1 3025.3L721.9 3028.6L722.6 3031.9L723.4 3035.2L724.2 3038.5L724.9 3041.8L725.7 3045.1L726.5 3048.4L727.2 3051.7L728 3054.9L728.8 3058.2L729.5 3061.5L730.3 3064.8L731.1 3068.1L731.8 3071.4L732.6 3074.7L733.4 3078L734.1 3081.3L734.9 3084.5L735.7 3087.8L736.4 3091.1L737.2 3094.4L738 3097.7L738.7 3101L739.5 3104.3L740.3 3107.6L741 3110.9L741.8 3114.1L742.6 3117.4L743.3 3120.7L744.1 3124L744.9 3127.3L745.6 3130.6L746.4 3133.9L747.2 3137.2L747.9 3140.5L748.7 3143.7L749.5 3147L750.2 3150.3L751 3153.6L751.7 3156.9L752.5 3160.2L753.3 3163.5L754 3166.8L754.8 3170.1L755.6 3173.3L756.3 3176.6L757.1 3179.9L757.9 3183.2L758.6 3186.5L759.4 3189.8L760.2 3193.1L760.9 3196.4L761.7 3199.7L762.5 3202.9L763.2 3206.2L764 3209.5L764.8 3212.8L765.5 3216.1L766.3 3219.4L767.1 3222.7L767.8 3226L768.6 3229.3L769.4 3232.5L770.1 3235.8L770.9 3239.1L771.7 3242.4M772.4 2770.2L773.2 2809.3L774 2848.4L774.7 2887.4L775.5 2926.5M775.5 2926.5L776.3 2922.4L777 2918.2L777.8 2914.1L778.6 2910L779.3 2905.8L780.1 2901.7L780.9 2897.6L781.6 2893.4L782.4 2889.3L783.2 2885.2L783.9 2881L784.7 2876.9L785.5 2872.8L786.2 2868.6L787 2864.5L787.8 2860.4L788.5 2856.2L789.3 2852.1L790.1 2848L790.8 2843.9L791.6 2839.7L792.4 2835.6L793.1 2831.5L793.9 2827.3L794.7 2823.2L795.4 2819.1L796.2 2814.9L797 2811.7L797.7 2809.3L798.5 2807.7L799.3 2807.1L800 2807.3L800.8 2808.3L801.6 2810.3L802.3 2813.1L803.1 2816.7L803.9 2821.3L804.6 2826.7L805.4 2832.1L806.2 2837.4L806.9 2842.8L807.7 2848.2L808.5 2853.6L809.2 2859L810 2864.4L810.8 2869.8L811.5 2875.2L812.3 2880.6L813.1 2886L813.8 2891.4L814.6 2896.8L815.4 2902.2L816.1 2907.6L816.9 2913L817.7 2918.4L818.4 2923.8L819.2 2929.2L820 2934.6L820.7 2940L821.5 2945.4L822.3 2950.8L823 2956.2L823.8 2961.6L824.6 2967L825.3 2972.4L826.1 2977.7L826.9 2983.1L827.6 2988.5L828.4 2993.9L829.2 2999.3L829.9 3004.7L830.7 3010.1L831.5 3015.5L832.2 3020.9L833 3026.3L833.7 3031.7L834.5 3037.1L835.3 3042.5L836 3047.9L836.8 3053.3L837.6 3058.7L838.3 3064.1L839.1 3069.5L839.9 3074.9L840.6 3080.3L841.4 3085.7L842.2 3091.1L842.9 3096.5L843.7 3101.9L844.5 3107.3L845.2 3112.4L846 3117.2L846.8 3121.7L847.5 3126L848.3 3129.9L849.1 3133.6L849.8 3137L850.6 3140.1L851.4 3142.9L852.1 3145.4L852.9 3147.6L853.7 3149.8L854.4 3152L855.2 3154.3L856 3156.5L856.7 3158.7L857.5 3161L858.3 3163.2L859 3165.4L859.8 3167.6L860.6 3169.9L861.3 3172.1L862.1 3174.3L862.9 3176.5L863.6 3178.8L864.4 3181L865.2 3183.2L865.9 3184.9L866.7 3186.1L867.5 3186.7L868.2 3186.8L869 3186.4L869.8 3185.4L870.5 3183.9L871.3 3181.9L872.1 3179.3L872.8 3176.2L873.6 3172.6L874.4 3169L875.1 3165.4L875.9 3161.7L876.7 3158.1L877.4 3154.5L878.2 3150.9L879 3147.2L879.7 3143.6L880.5 3140L881.3 3136.4L882 3132.8L882.8 3129.1L883.6 3125.5L884.3 3121.9L885.1 3118.3L885.9 3114.6L886.6 3111L887.4 3107.4L888.2 3103.8L888.9 3100.2L889.7 3096.5L890.5 3092.9L891.2 3089.3L892 3085.7L892.8 3082L893.5 3078.4L894.3 3074.8L895.1 3071.2L895.8 3067.6L896.6 3063.9L897.4 3060.3L898.1 3056.7L898.9 3053.1L899.7 3049.5L900.4 3045.8L901.2 3042.2L902 3038.6L902.7 3035L903.5 3031.3L904.3 3027.7L905 3024.1L905.8 3020.5L906.6 3016.9L907.3 3013.2L908.1 3009.6L908.9 3006L909.6 3002.4L910.4 2998.7L911.2 2995.1L911.9 2991.5L912.7 2987.9L913.4 2984.3L914.2 2980.6L915 2977L915.7 2973.4L916.5 2969.8L917.3 2966.1L918 2962.5L918.8 2958.9L919.6 2955.3L920.3 2951.7L921.1 2948L921.9 2944.4L922.6 2940.8L923.4 2937.2L924.2 2933.5L924.9 2929.9M925.7 3415.8L926.5 3357.9L927.2 3299.9L928 3242L928.8 3184M928.8 3184L929.5 3187.2L930.3 3190.3L931.1 3193.4L931.8 3196.5L932.6 3199.6L933.4 3202.8L934.1 3205.9L934.9 3209L935.7 3212.1L936.4 3215.3L937.2 3218.4L938 3221.5L938.7 3224.6L939.5 3227.7L940.3 3230.9L941 3234L941.8 3237.1L942.6 3240.2L943.3 3243.3L944.1 3246.5L944.9 3249.6L945.6 3252.7L946.4 3255.8L947.2 3259L947.9 3262.1L948.7 3265.2L949.5 3268.3L950.2 3271.4L951 3274.6L951.8 3277.7L952.5 3280.8L953.3 3283.9L954.1 3287.1L954.8 3289.9L955.6 3292.1L956.4 3293.7L957.1 3294.8L957.9 3295.2L958.7 3295L959.4 3294.2L960.2 3292.9L961 3290.9L961.7 3288.3L962.5 3285.2L963.3 3281.7L964 3278.2L964.8 3274.8L965.6 3271.3L966.3 3267.8L967.1 3264.4L967.9 3260.9L968.6 3257.5L969.4 3254L970.2 3250.5L970.9 3247.1L971.7 3243.6L972.5 3240.1L973.2 3236.7L974 3233.2L974.8 3229.7L975.5 3226.3L976.3 3222.8L977.1 3219.3L977.8 3215.9L978.6 3212.4L979.4 3209L980.1 3205.5L980.9 3202L981.7 3198.6L982.4 3195.1L983.2 3191.6L984 3188.2L984.7 3184.7L985.5 3181.2L986.3 3177.8L987 3174.3L987.8 3170.8L988.6 3167.4L989.3 3163.9L990.1 3160.5L990.9 3157L991.6 3153.5L992.4 3150.1L993.2 3146.6L993.9 3143.1L994.7 3139.7L995.4 3136.2L996.2 3132.7L997 3129.3L997.7 3125.8L998.5 3122.3L999.3 3118.9L1000 3115.4L1000.8 3112L1001.6 3108.5L1002.3 3105.1L1003.1 3101.6L1003.9 3098.2L1004.6 3094.8L1005.4 3091.3L1006.2 3087.9L1006.9 3084.4L1007.7 3081L1008.5 3077.6L1009.2 3074.1L1010 3070.7L1010.8 3067.3L1011.5 3063.8L1012.3 3060.4L1013.1 3057L1013.8 3053.5L1014.6 3050.1L1015.4 3046.7L1016.1 3043.2L1016.9 3039.8L1017.7 3036.4L1018.4 3032.9L1019.2 3029.5L1020 3026.1L1020.7 3023.2L1021.5 3021L1022.3 3019.4L1023 3018.4L1023.8 3018.1L1024.6 3018.3L1025.3 3019.1L1026.1 3020.6L1026.9 3022.7L1027.6 3025.3L1028.4 3028.6L1029.2 3031.9L1029.9 3035.2L1030.7 3038.5L1031.5 3041.8L1032.2 3045.1L1033 3048.4L1033.8 3051.7L1034.5 3054.9L1035.3 3058.2L1036.1 3061.5L1036.8 3064.8L1037.6 3068.1L1038.4 3071.4L1039.1 3074.7L1039.9 3078L1040.7 3081.3L1041.4 3084.5L1042.2 3087.8L1043 3091.1L1043.7 3094.4L1044.5 3097.7L1045.3 3101L1046 3104.3L1046.8 3107.6L1047.6 3110.9L1048.3 3114.1L1049.1 3117.4L1049.9 3120.7L1050.6 3124L1051.4 3127.3L1052.2 3130.6L1052.9 3133.9L1053.7 3137.2L1054.5 3140.5L1055.2 3143.7L1056 3147L1056.8 3150.3L1057.5 3153.6L1058.3 3156.9L1059.1 3160.2L1059.8 3163.5L1060.6 3166.8L1061.4 3170.1L1062.1 3173.3L1062.9 3176.6L1063.7 3179.9L1064.4 3183.2L1065.2 3186.5L1066 3189.8L1066.7 3193.1L1067.5 3196.4L1068.3 3199.7L1069 3202.9L1069.8 3206.2L1070.6 3209.5L1071.3 3212.8L1072.1 3216.1L1072.9 3219.4L1073.6 3222.7L1074.4 3226L1075.1 3229.3L1075.9 3232.5L1076.7 3235.8L1077.4 3239.1L1078.2 3242.4M1079 2770.2L1079.7 2809.3L1080.5 2848.4L1081.3 2887.4L1082 2926.5M1082 2926.5L1082.8 2922.4L1083.6 2918.2L1084.3 2914.1L1085.1 2910L1085.9 2905.8L1086.6 2901.7L1087.4 2897.6L1088.2 2893.4L1088.9 2889.3L1089.7 2885.2L1090.5 2881L1091.2 2876.9L1092 2872.8L1092.8 2868.6L1093.5 2864.5L1094.3 2860.4L1095.1 2856.2L1095.8 2852.1L1096.6 2848L1097.4 2843.9L1098.1 2839.7L1098.9 2835.6L1099.7 2831.5L1100.4 2827.3L1101.2 2823.2L1102 2819.1L1102.7 2814.9L1103.5 2811.7L1104.3 2809.3L1105 2807.7L1105.8 2807.1L1106.6 2807.3L1107.3 2808.3L1108.1 2810.3L1108.9 2813.1L1109.6 2816.7L1110.4 2821.3L1111.2 2826.7L1111.9 2832.1L1112.7 2837.4L1113.5 2842.8L1114.2 2848.2L1115 2853.6L1115.8 2859L1116.5 2864.4L1117.3 2869.8L1118.1 2875.2L1118.8 2880.6L1119.6 2886L1120.4 2891.4L1121.1 2896.8L1121.9 2902.2L1122.7 2907.6L1123.4 2913L1124.2 2918.4L1125 2923.8L1125.7 2929.2L1126.5 2934.6L1127.3 2940L1128 2945.4L1128.8 2950.8L1129.6 2956.2L1130.3 2961.6L1131.1 2967L1131.9 2972.4L1132.6 2977.7L1133.4 2983.1L1134.2 2988.5L1134.9 2993.9L1135.7 2999.3L1136.5 3004.7L1137.2 3010.1L1138 3015.5L1138.8 3020.9L1139.5 3026.3L1140.3 3031.7L1141.1 3037.1L1141.8 3042.5L1142.6 3047.9L1143.4 3053.3L1144.1 3058.7L1144.9 3064.1L1145.7 3069.5L1146.4 3074.9L1147.2 3080.3L1148 3085.7L1148.7 3091.1L1149.5 3096.5L1150.3 3101.9L1151 3107.3L1151.8 3112.4L1152.6 3117.2L1153.3 3121.7L1154.1 3126L1154.8 3129.9L1155.6 3133.6L1156.4 3137L1157.1 3140.1L1157.9 3142.9L1158.7 3145.4L1159.4 3147.6L1160.2 3149.8L1161 3152L1161.7 3154.3L1162.5 3156.5L1163.3 3158.7L1164 3161L1164.8 3163.2L1165.6 3165.4L1166.3 3167.6L1167.1 3169.9L1167.9 3172.1L1168.6 3174.3L1169.4 3176.5L1170.2 3178.8L1170.9 3181L1171.7 3183.2L1172.5 3184.9L1173.2 3186.1L1174 3186.7L1174.8 3186.8L1175.5 3186.4L1176.3 3185.4L1177.1 3183.9L1177.8 3181.9L1178.6 3179.3L1179.4 3176.2L1180.1 3172.6L1180.9 3169L1181.7 3165.4L1182.4 3161.7L1183.2 3158.1L1184 3154.5L1184.7 3150.9L1185.5 3147.2L1186.3 3143.6L1187 3140L1187.8 3136.4L1188.6 3132.8L1189.3 3129.1L1190.1 3125.5L1190.9 3121.9L1191.6 3118.3L1192.4 3114.6L1193.2 3111L1193.9 3107.4L1194.7 3103.8L1195.5 3100.2L1196.2 3096.5L1197 3092.9L1197.8 3089.3L1198.5 3085.7L1199.3 3082L1200.1 3078.4L1200.8 3074.8L1201.6 3071.2L1202.4 3067.6L1203.1 3063.9L1203.9 3060.3L1204.7 3056.7L1205.4 3053.1L1206.2 3049.5L1207 3045.8L1207.7 3042.2L1208.5 3038.6L1209.3 3035L1210 3031.3L1210.8 3027.7L1211.6 3024.1L1212.3 3020.5L1213.1 3016.9L1213.9 3013.2L1214.6 3009.6L1215.4 3006L1216.2 3002.4L1216.9 2998.7L1217.7 2995.1L1218.5 2991.5L1219.2 2987.9L1220 2984.3L1220.8 2980.6L1221.5 2977L1222.3 2973.4L1223.1 2969.8L1223.8 2966.1L1224.6 2962.5L1225.4 2958.9L1226.1 2955.3L1226.9 2951.7L1227.7 2948L1228.4 2944.4L1229.2 2940.8L1230 2937.2L1230.7 2933.5L1231.5 2929.9M1232.3 3415.8L1233 3357.9L1233.8 3299.9L1234.6 3242L1235.3 3184M1235.3 3184L1236.1 3187.2L1236.8 3190.3L1237.6 3193.4L1238.4 3196.5L1239.1 3199.6L1239.9 3202.8L1240.7 3205.9L1241.4 3209L1242.2 3212.1L1243 3215.3L1243.7 3218.4L1244.5 3221.5L1245.3 3224.6L1246 3227.7L1246.8 3230.9L1247.6 3234L1248.3 3237.1L1249.1 3240.2L1249.9 3243.3L1250.6 3246.5L1251.4 3249.6L1252.2 3252.7L1252.9 3255.8L1253.7 3259L1254.5 3262.1L1255.2 3265.2L1256 3268.3L1256.8 3271.4L1257.5 3274.6L1258.3 3277.7L1259.1 3280.8L1259.8 3283.9L1260.6 3287.1L1261.4 3289.9L1262.1 3292.1L1262.9 3293.7L1263.7 3294.8L1264.4 3295.2L1265.2 3295L1266 3294.2L1266.7 3292.9L1267.5 3290.9L1268.3 3288.3L1269 3285.2L1269.8 3281.7L1270.6 3278.2L1271.3 3274.8L1272.1 3271.3L1272.9 3267.8L1273.6 3264.4L1274.4 3260.9L1275.2 3257.5L1275.9 3254L1276.7 3250.5L1277.5 3247.1L1278.2 3243.6L1279 3240.1L1279.8 3236.7L1280.5 3233.2L1281.3 3229.7L1282.1 3226.3L1282.8 3222.8L1283.6 3219.3L1284.4 3215.9L1285.1 3212.4L1285.9 3209L1286.7 3205.5L1287.4 3202L1288.2 3198.6L1289 3195.1L1289.7 3191.6L1290.5 3188.2L1291.3 3184.7L1292 3181.2L1292.8 3177.8L1293.6 3174.3L1294.3 3170.8L1295.1 3167.4L1295.9 3163.9L1296.6 3160.5L1297.4 3157L1298.2 3153.5L1298.9 3150.1L1299.7 3146.6L1300.5 3143.1L1301.2 3139.7L1302 3136.2L1302.8 3132.7L1303.5 3129.3L1304.3 3125.8L1305.1 3122.3L1305.8 3118.9L1306.6 3115.4L1307.4 3112L1308.1 3108.5L1308.9 3105.1L1309.7 3101.6L1310.4 3098.2L1311.2 3094.8L1312 3091.3L1312.7 3087.9L1313.5 3084.4L1314.3 3081L1315 3077.6L1315.8 3074.1L1316.5 3070.7L1317.3 3067.3L1318.1 3063.8L1318.8 3060.4L1319.6 3057L1320.4 3053.5L1321.1 3050.1L1321.9 3046.7L1322.7 3043.2L1323.4 3039.8L1324.2 3036.4L1325 3032.9L1325.7 3029.5L1326.5 3026.1L1327.3 3023.2L1328 3021L1328.8 3019.4L1329.6 3018.4L1330.3 3018.1L1331.1 3018.3L1331.9 3019.1L1332.6 3020.6L1333.4 3022.7L1334.2 3025.3L1334.9 3028.6L1335.7 3031.9L1336.5 3035.2L1337.2 3038.5L1338 3041.8L1338.8 3045.1L1339.5 3048.4L1340.3 3051.7L1341.1 3054.9L1341.8 3058.2L1342.6 3061.5L1343.4 3064.8L1344.1 3068.1L1344.9 3071.4L1345.7 3074.7L1346.4 3078L1347.2 3081.3L1348 3084.5L1348.7 3087.8L1349.5 3091.1L1350.3 3094.4L1351 3097.7L1351.8 3101L1352.6 3104.3L1353.3 3107.6L1354.1 3110.9L1354.9 3114.1L1355.6 3117.4L1356.4 3120.7L1357.2 3124L1357.9 3127.3L1358.7 3130.6L1359.5 3133.9L1360.2 3137.2L1361 3140.5L1361.8 3143.7L1362.5 3147L1363.3 3150.3L1364.1 3153.6L1364.8 3156.9L1365.6 3160.2L1366.4 3163.5L1367.1 3166.8L1367.9 3170.1L1368.7 3173.3L1369.4 3176.6L1370.2 3179.9L1371 3183.2L1371.7 3186.5L1372.5 3189.8L1373.3 3193.1L1374 3196.4L1374.8 3199.7L1375.6 3202.9L1376.3 3206.2L1377.1 3209.5L1377.9 3212.8L1378.6 3216.1L1379.4 3219.4L1380.2 3222.7L1380.9 3226L1381.7 3229.3L1382.5 3232.5L1383.2 3235.8L1384 3239.1L1384.8 3242.4M1385.5 2770.2L1386.3 2809.3L1387.1 2848.4L1387.8 2887.4L1388.6 2926.5M1388.6 2926.5L1389.4 2922.4L1390.1 2918.2L1390.9 2914.1L1391.7 2910L1392.4 2905.8L1393.2 2901.7L1394 2897.6L1394.7 2893.4L1395.5 2889.3L1396.3 2885.2L1397 2881L1397.8 2876.9L1398.5 2872.8L1399.3 2868.6L1400.1 2864.5L1400.8 2860.4L1401.6 2856.2L1402.4 2852.1L1403.1 2848L1403.9 2843.9L1404.7 2839.7L1405.4 2835.6L1406.2 2831.5L1407 2827.3L1407.7 2823.2L1408.5 2819.1L1409.3 2814.9L1410 2811.7L1410.8 2809.3L1411.6 2807.7L1412.3 2807.1L1413.1 2807.3L1413.9 2808.3L1414.6 2810.3L1415.4 2813.1L1416.2 2816.7L1416.9 2821.3L1417.7 2826.7L1418.5 2832.1L1419.2 2837.4L1420 2842.8L1420.8 2848.2L1421.5 2853.6L1422.3 2859L1423.1 2864.4L1423.8 2869.8L1424.6 2875.2L1425.4 2880.6L1426.1 2886L1426.9 2891.4L1427.7 2896.8L1428.4 2902.2L1429.2 2907.6L1430 2913L1430.7 2918.4L1431.5 2923.8L1432.3 2929.2L1433 2934.6L1433.8 2940L1434.6 2945.4L1435.3 2950.8L1436.1 2956.2L1436.9 2961.6L1437.6 2967L1438.4 2972.4L1439.2 2977.7L1439.9 2983.1L1440.7 2988.5L1441.5 2993.9L1442.2 2999.3L1443 3004.7L1443.8 3010.1L1444.5 3015.5L1445.3 3020.9L1446.1 3026.3L1446.8 3031.7L1447.6 3037.1L1448.4 3042.5L1449.1 3047.9L1449.9 3053.3L1450.7 3058.7L1451.4 3064.1L1452.2 3069.5L1453 3074.9L1453.7 3080.3L1454.5 3085.7L1455.3 3091.1L1456 3096.5L1456.8 3101.9L1457.6 3107.3L1458.3 3112.4L1459.1 3117.2L1459.9 3121.7L1460.6 3126L1461.4 3129.9L1462.2 3133.6L1462.9 3137L1463.7 3140.1L1464.5 3142.9L1465.2 3145.4L1466 3147.6L1466.8 3149.8L1467.5 3152L1468.3 3154.3L1469.1 3156.5L1469.8 3158.7L1470.6 3161L1471.4 3163.2L1472.1 3165.4L1472.9 3167.6L1473.7 3169.9L1474.4 3172.1L1475.2 3174.3L1476 3176.5L1476.7 3178.8L1477.5 3181L1478.2 3183.2L1479 3184.9L1479.8 3186.1L1480.5 3186.7L1481.3 3186.8L1482.1 3186.4L1482.8 3185.4L1483.6 3183.9L1484.4 3181.9L1485.1 3179.3L1485.9 3176.2L1486.7 3172.6L1487.4 3169L1488.2 3165.4L1489 3161.7L1489.7 3158.1L1490.5 3154.5L1491.3 3150.9L1492 3147.2L1492.8 3143.6L1493.6 3140L1494.3 3136.4L1495.1 3132.8L1495.9 3129.1L1496.6 3125.5L1497.4 3121.9L1498.2 3118.3L1498.9 3114.6L1499.7 3111L1500.5 3107.4L1501.2 3103.8L1502 3100.2L1502.8 3096.5L1503.5 3092.9L1504.3 3089.3L1505.1 3085.7L1505.8 3082L1506.6 3078.4L1507.4 3074.8L1508.1 3071.2L1508.9 3067.6L1509.7 3063.9L1510.4 3060.3L1511.2 3056.7L1512 3053.1L1512.7 3049.5L1513.5 3045.8L1514.3 3042.2L1515 3038.6L1515.8 3035L1516.6 3031.3L1517.3 3027.7L1518.1 3024.1L1518.9 3020.5L1519.6 3016.9L1520.4 3013.2L1521.2 3009.6L1521.9 3006L1522.7 3002.4L1523.5 2998.7L1524.2 2995.1L1525 2991.5L1525.8 2987.9L1526.5 2984.3L1527.3 2980.6L1528.1 2977L1528.8 2973.4L1529.6 2969.8L1530.4 2966.1L1531.1 2962.5L1531.9 2958.9L1532.7 2955.3L1533.4 2951.7L1534.2 2948L1535 2944.4L1535.7 2940.8L1536.5 2937.2L1537.3 2933.5L1538 2929.9M1538.8 3415.8L1539.6 3357.9L1540.3 3299.9L1541.1 3242L1541.9 3184M1541.9 3184L1542.6 3187.2L1543.4 3190.3L1544.2 3193.4L1544.9 3196.5L1545.7 3199.6L1546.5 3202.8L1547.2 3205.9L1548 3209L1548.8 3212.1L1549.5 3215.3L1550.3 3218.4L1551.1 3221.5L1551.8 3224.6L1552.6 3227.7L1553.4 3230.9L1554.1 3234L1554.9 3237.1L1555.7 3240.2L1556.4 3243.3L1557.2 3246.5L1558 3249.6L1558.7 3252.7L1559.5 3255.8L1560.2 3259L1561 3262.1L1561.8 3265.2L1562.5 3268.3L1563.3 3271.4L1564.1 3274.6L1564.8 3277.7L1565.6 3280.8L1566.4 3283.9L1567.1 3287.1L1567.9 3289.9L1568.7 3292.1L1569.4 3293.7L1570.2 3294.8L1571 3295.2L1571.7 3295L1572.5 3294.2L1573.3 3292.9L1574 3290.9L1574.8 3288.3L1575.6 3285.2L1576.3 3281.7L1577.1 3278.2L1577.9 3274.8L1578.6 3271.3L1579.4 3267.8L1580.2 3264.4L1580.9 3260.9L1581.7 3257.5L1582.5 3254L1583.2 3250.5L1584 3247.1L1584.8 3243.6L1585.5 3240.1L1586.3 3236.7L1587.1 3233.2L1587.8 3229.7L1588.6 3226.3L1589.4 3222.8L1590.1 3219.3L1590.9 3215.9L1591.7 3212.4L1592.4 3209L1593.2 3205.5L1594 3202L1594.7 3198.6L1595.5 3195.1L1596.3 3191.6L1597 3188.2L1597.8 3184.7L1598.6 3181.2L1599.3 3177.8L1600.1 3174.3L1600.9 3170.8L1601.6 3167.4L1602.4 3163.9L1603.2 3160.5L1603.9 3157L1604.7 3153.5L1605.5 3150.1L1606.2 3146.6L1607 3143.1L1607.8 3139.7L1608.5 3136.2L1609.3 3132.7L1610.1 3129.3L1610.8 3125.8L1611.6 3122.3L1612.4 3118.9L1613.1 3115.4L1613.9 3112L1614.7 3108.5L1615.4 3105.1L1616.2 3101.6L1617 3098.2L1617.7 3094.8L1618.5 3091.3L1619.3 3087.9L1620 3084.4L1620.8 3081L1621.6 3077.6L1622.3 3074.1L1623.1 3070.7L1623.9 3067.3L1624.6 3063.8L1625.4 3060.4L1626.2 3057L1626.9 3053.5L1627.7 3050.1L1628.5 3046.7L1629.2 3043.2L1630 3039.8L1630.8 3036.4L1631.5 3032.9L1632.3 3029.5L1633.1 3026.1L1633.8 3023.2L1634.6 3021L1635.4 3019.4L1636.1 3018.4L1636.9 3018.1L1637.7 3018.3L1638.4 3019.1L1639.2 3020.6L1639.9 3022.7L1640.7 3025.3L1641.5 3028.6L1642.2 3031.9L1643 3035.2L1643.8 3038.5L1644.5 3041.8L1645.3 3045.1L1646.1 3048.4L1646.8 3051.7L1647.6 3054.9L1648.4 3058.2L1649.1 3061.5L1649.9 3064.8L1650.7 3068.1L1651.4 3071.4L1652.2 3074.7L1653 3078L1653.7 3081.3L1654.5 3084.5L1655.3 3087.8L1656 3091.1L1656.8 3094.4L1657.6 3097.7L1658.3 3101L1659.1 3104.3L1659.9 3107.6L1660.6 3110.9L1661.4 3114.1L1662.2 3117.4L1662.9 3120.7L1663.7 3124L1664.5 3127.3L1665.2 3130.6L1666 3133.9L1666.8 3137.2L1667.5 3140.5L1668.3 3143.7L1669.1 3147L1669.8 3150.3L1670.6 3153.6L1671.4 3156.9L1672.1 3160.2L1672.9 3163.5L1673.7 3166.8L1674.4 3170.1L1675.2 3173.3L1676 3176.6L1676.7 3179.9L1677.5 3183.2L1678.3 3186.5L1679 3189.8L1679.8 3193.1L1680.6 3196.4L1681.3 3199.7L1682.1 3202.9L1682.9 3206.2L1683.6 3209.5L1684.4 3212.8L1685.2 3216.1L1685.9 3219.4L1686.7 3222.7L1687.5 3226L1688.2 3229.3L1689 3232.5L1689.8 3235.8L1690.5 3239.1L1691.3 3242.4M1692.1 2770.2L1692.8 2809.3L1693.6 2848.4L1694.4 2887.4L1695.1 2926.5M1695.1 2926.5L1695.9 2922.4L1696.7 2918.2L1697.4 2914.1L1698.2 2910L1699 2905.8L1699.7 2901.7L1700.5 2897.6L1701.3 2893.4L1702 2889.3L1702.8 2885.2L1703.6 2881L1704.3 2876.9L1705.1 2872.8L1705.9 2868.6L1706.6 2864.5L1707.4 2860.4L1708.2 2856.2L1708.9 2852.1L1709.7 2848L1710.5 2843.9L1711.2 2839.7L1712 2835.6L1712.8 2831.5L1713.5 2827.3L1714.3 2823.2L1715.1 2819.1L1715.8 2814.9L1716.6 2811.7L1717.4 2809.3L1718.1 2807.7L1718.9 2807.1L1719.6 2807.3L1720.4 2808.3L1721.2 2810.3L1721.9 2813.1L1722.7 2816.7L1723.5 2821.3L1724.2 2826.7L1725 2832.1L1725.8 2837.4L1726.5 2842.8L1727.3 2848.2L1728.1 2853.6L1728.8 2859L1729.6 2864.4L1730.4 2869.8L1731.1 2875.2L1731.9 2880.6L1732.7 2886L1733.4 2891.4L1734.2 2896.8L1735 2902.2L1735.7 2907.6L1736.5 2913L1737.3 2918.4L1738 2923.8L1738.8 2929.2L1739.6 2934.6L1740.3 2940L1741.1 2945.4L1741.9 2950.8L1742.6 2956.2L1743.4 2961.6L1744.2 2967L1744.9 2972.4L1745.7 2977.7L1746.5 2983.1L1747.2 2988.5L1748 2993.9L1748.8 2999.3L1749.5 3004.7L1750.3 3010.1L1751.1 3015.5L1751.8 3020.9L1752.6 3026.3L1753.4 3031.7L1754.1 3037.1L1754.9 3042.5L1755.7 3047.9L1756.4 3053.3L1757.2 3058.7L1758 3064.1L1758.7 3069.5L1759.5 3074.9L1760.3 3080.3L1761 3085.7L1761.8 3091.1L1762.6 3096.5L1763.3 3101.9L1764.1 3107.3L1764.9 3112.4L1765.6 3117.2L1766.4 3121.7L1767.2 3126L1767.9 3129.9L1768.7 3133.6L1769.5 3137L1770.2 3140.1L1771 3142.9L1771.8 3145.4L1772.5 3147.6L1773.3 3149.8L1774.1 3152L1774.8 3154.3L1775.6 3156.5L1776.4 3158.7L1777.1 3161L1777.9 3163.2L1778.7 3165.4L1779.4 3167.6L1780.2 3169.9L1781 3172.1L1781.7 3174.3L1782.5 3176.5L1783.3 3178.8L1784 3181L1784.8 3183.2L1785.6 3184.9L1786.3 3186.1L1787.1 3186.7L1787.9 3186.8L1788.6 3186.4L1789.4 3185.4L1790.2 3183.9L1790.9 3181.9L1791.7 3179.3L1792.5 3176.2L1793.2 3172.6L1794 3169L1794.8 3165.4L1795.5 3161.7L1796.3 3158.1L1797.1 3154.5L1797.8 3150.9L1798.6 3147.2L1799.4 3143.6L1800.1 3140L1800.9 3136.4L1801.6 3132.8L1802.4 3129.1L1803.2 3125.5L1803.9 3121.9L1804.7 3118.3L1805.5 3114.6L1806.2 3111L1807 3107.4L1807.8 3103.8L1808.5 3100.2L1809.3 3096.5L1810.1 3092.9L1810.8 3089.3L1811.6 3085.7L1812.4 3082L1813.1 3078.4L1813.9 3074.8L1814.7 3071.2L1815.4 3067.6L1816.2 3063.9L1817 3060.3L1817.7 3056.7L1818.5 3053.1L1819.3 3049.5L1820 3045.8L1820.8 3042.2L1821.6 3038.6L1822.3 3035L1823.1 3031.3L1823.9 3027.7L1824.6 3024.1L1825.4 3020.5L1826.2 3016.9L1826.9 3013.2L1827.7 3009.6L1828.5 3006L1829.2 3002.4L1830 2998.7L1830.8 2995.1L1831.5 2991.5L1832.3 2987.9L1833.1 2984.3L1833.8 2980.6L1834.6 2977L1835.4 2973.4L1836.1 2969.8L1836.9 2966.1L1837.7 2962.5L1838.4 2958.9L1839.2 2955.3L1840 2951.7L1840.7 2948L1841.5 2944.4L1842.3 2940.8L1843 2937.2L1843.8 2933.5L1844.6 2929.9M1845.3 3415.8L1846.1 3357.9L1846.9 3299.9L1847.6 3242L1848.4 3184M1848.4 3184L1849.2 3187.2L1849.9 3190.3L1850.7 3193.4L1851.5 3196.5L1852.2 3199.6L1853 3202.8L1853.8 3205.9L1854.5 3209L1855.3 3212.1L1856.1 3215.3L1856.8 3218.4L1857.6 3221.5L1858.4 3224.6L1859.1 3227.7L1859.9 3230.9L1860.7 3234L1861.4 3237.1L1862.2 3240.2L1863 3243.3L1863.7 3246.5L1864.5 3249.6L1865.3 3252.7L1866 3255.8L1866.8 3259L1867.6 3262.1L1868.3 3265.2L1869.1 3268.3L1869.9 3271.4L1870.6 3274.6L1871.4 3277.7L1872.2 3280.8L1872.9 3283.9L1873.7 3287.1L1874.5 3289.9L1875.2 3292.1L1876 3293.7L1876.8 3294.8L1877.5 3295.2L1878.3 3295L1879.1 3294.2L1879.8 3292.9L1880.6 3290.9L1881.3 3288.3L1882.1 3285.2L1882.9 3281.7L1883.6 3278.2L1884.4 3274.8L1885.2 3271.3L1885.9 3267.8L1886.7 3264.4L1887.5 3260.9L1888.2 3257.5L1889 3254L1889.8 3250.5L1890.5 3247.1L1891.3 3243.6L1892.1 3240.1L1892.8 3236.7L1893.6 3233.2L1894.4 3229.7L1895.1 3226.3L1895.9 3222.8L1896.7 3219.3L1897.4 3215.9L1898.2 3212.4L1899 3209L1899.7 3205.5L1900.5 3202L1901.3 3198.6L1902 3195.1L1902.8 3191.6L1903.6 3188.2L1904.3 3184.7L1905.1 3181.2L1905.9 3177.8L1906.6 3174.3L1907.4 3170.8L1908.2 3167.4L1908.9 3163.9L1909.7 3160.5L1910.5 3157L1911.2 3153.5L1912 3150.1L1912.8 3146.6L1913.5 3143.1L1914.3 3139.7L1915.1 3136.2L1915.8 3132.7L1916.6 3129.3L1917.4 3125.8L1918.1 3122.3L1918.9 3118.9L1919.7 3115.4L1920.4 3112L1921.2 3108.5" fill="none" stroke="#0000FF" stroke-width="17.5" stroke-linejoin="bevel" stroke-dasharray="31 2.5"/>
<path d="M465.1 3242.4L465.9 2770.2M469 2926.5L469 2926.5M618.4 2929.9L619.2 3415.8M622.2 3184L622.2 3184M771.7 3242.4L772.4 2770.2M775.5 2926.5L775.5 2926.5M924.9 2929.9L925.7 3415.8M928.8 3184L928.8 3184M1078.2 3242.4L1079 2770.2M1082 2926.5L1082 2926.5M1231.5 2929.9L1232.3 3415.8M1235.3 3184L1235.3 3184M1384.8 3242.4L1385.5 2770.2M1388.6 2926.5L1388.6 2926.5M1538 2929.9L1538.8 3415.8M1541.9 3184L1541.9 3184M1691.3 3242.4L1692.1 2770.2M1695.1 2926.5L1695.1 2926.5M1844.6 2929.9L1845.3 3415.8M1848.4 3184L1848.4 3184" fill="none" stroke="#0000FF" stroke-width="17.5" stroke-linejoin="bevel" stroke-dasharray="50 11 26 11" stroke-dashoffset="24.5"/>
</g>
<rect x="619" y="2614.1" width="249" height="7.8" fill="#D95319"/>
<rect x="1285" y="2609" width="51" height="18" fill="#0000FF"/>
<rect x="1347" y="2609" width="25" height="18" fill="#0000FF"/>
<rect x="1384" y="2609" width="51" height="18" fill="#0000FF"/>
<rect x="1447" y="2609" width="25" height="18" fill="#0000FF"/>
<rect x="1484" y="2609" width="51" height="18" fill="#0000FF"/>
<text class="tk" text-anchor="end" x="349.5" y="2775.2" style="font-size:82px">0.02</text>
<text class="tk" text-anchor="end" x="349.5" y="2946.9" style="font-size:82px">0.01</text>
<text class="tk" text-anchor="end" x="352.2" y="3118.6" style="font-size:82px">0</text>
<text class="tk" text-anchor="end" x="352.1" y="3290.3" style="font-size:82px"><tspan textLength="53" lengthAdjust="spacingAndGlyphs">−</tspan><tspan dx="-3">0.01</tspan></text>
<text class="tk" text-anchor="end" x="352.1" y="3462" style="font-size:82px"><tspan textLength="53" lengthAdjust="spacingAndGlyphs">−</tspan><tspan dx="-3">0.02</tspan></text>
<text class="tk" text-anchor="middle" x="386.5" y="3544.5" style="font-size:82px">0</text>
<text class="tk" text-anchor="middle" x="769.7" y="3544.5" style="font-size:82px">5</text>
<text class="tk" text-anchor="middle" x="1152.8" y="3544.5" style="font-size:82px">10</text>
<text class="tk" text-anchor="middle" x="1536" y="3544.5" style="font-size:82px">15</text>
<text class="tk" text-anchor="middle" x="1919.2" y="3544.5" style="font-size:82px">20</text>
<text class="tk" text-anchor="middle" x="1155" y="3651.7" style="font-size:83px">Time(s)</text>
<text class="tk" text-anchor="middle" transform="translate(150 3028) rotate(-90)" style="font-size:83px"><tspan font-style="italic">Y</tspan>-axis tracking error(mm)</text>
<text class="cap" text-anchor="middle" x="1039" y="3800">(<tspan font-weight="bold">d</tspan>)</text>
</g>
</svg>
</body></html>
